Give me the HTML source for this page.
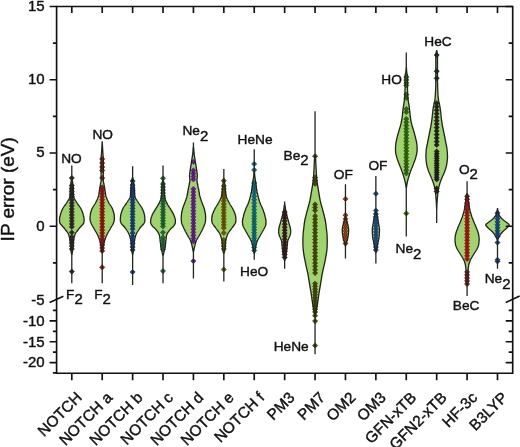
<!DOCTYPE html>
<html><head><meta charset="utf-8"><title>IP error violin plot</title>
<style>html,body{margin:0;padding:0;background:#fff}body{width:520px;height:447px;position:relative;overflow:hidden}</style>
</head><body>
<svg width="520" height="447" viewBox="0 0 520 447" style="position:absolute;left:0;top:0;filter:blur(0.35px)">
<rect width="520" height="447" fill="#fff"/>
<defs><path id="b0" d="M72.1 179.5 L72.3 180.5 L72.5 181.5 L72.6 182.5 L72.8 183.5 L72.9 184.5 L73.0 185.5 L73.2 186.5 L73.3 187.5 L73.3 188.5 L73.4 189.5 L73.4 190.5 L73.5 191.5 L73.5 192.5 L73.5 193.5 L73.5 194.5 L73.6 195.5 L73.7 196.5 L73.9 197.5 L74.3 198.5 L74.9 199.5 L75.5 200.5 L76.1 201.5 L76.7 202.5 L77.3 203.5 L78.0 204.5 L78.8 205.5 L79.5 206.5 L80.2 207.5 L80.8 208.5 L81.3 209.5 L81.8 210.5 L82.2 211.5 L82.6 212.5 L82.9 213.5 L83.2 214.5 L83.4 215.5 L83.7 216.5 L83.9 217.5 L84.0 218.5 L84.1 219.5 L84.1 220.5 L84.0 221.5 L83.9 222.5 L83.5 223.5 L82.7 224.5 L81.8 225.5 L80.9 226.5 L79.9 227.5 L79.1 228.5 L78.4 229.5 L77.6 230.5 L76.8 231.5 L76.1 232.5 L75.5 233.5 L75.0 234.5 L74.7 235.5 L74.4 236.5 L74.1 237.5 L73.9 238.5 L73.8 239.5 L73.6 240.5 L73.5 241.5 L73.4 242.5 L73.3 243.5 L73.2 244.5 L73.1 245.5 L73.0 246.5 L73.0 247.5 L72.8 248.5 L72.7 249.5 L72.6 250.5 L72.5 251.5 L72.3 252.5 L72.2 253.5 L72.1 254.0 L71.5 254.0 L71.4 253.5 L71.3 252.5 L71.1 251.5 L71.0 250.5 L70.9 249.5 L70.8 248.5 L70.7 247.5 L70.6 246.5 L70.5 245.5 L70.4 244.5 L70.3 243.5 L70.2 242.5 L70.1 241.5 L70.0 240.5 L69.8 239.5 L69.7 238.5 L69.5 237.5 L69.2 236.5 L69.0 235.5 L68.6 234.5 L68.1 233.5 L67.5 232.5 L66.8 231.5 L66.0 230.5 L65.2 229.5 L64.5 228.5 L63.7 227.5 L62.7 226.5 L61.8 225.5 L60.9 224.5 L60.1 223.5 L59.7 222.5 L59.6 221.5 L59.5 220.5 L59.5 219.5 L59.6 218.5 L59.7 217.5 L59.9 216.5 L60.2 215.5 L60.4 214.5 L60.7 213.5 L61.1 212.5 L61.4 211.5 L61.8 210.5 L62.3 209.5 L62.8 208.5 L63.4 207.5 L64.1 206.5 L64.8 205.5 L65.6 204.5 L66.3 203.5 L66.9 202.5 L67.5 201.5 L68.1 200.5 L68.7 199.5 L69.3 198.5 L69.7 197.5 L69.9 196.5 L70.0 195.5 L70.1 194.5 L70.1 193.5 L70.1 192.5 L70.1 191.5 L70.2 190.5 L70.2 189.5 L70.3 188.5 L70.3 187.5 L70.4 186.5 L70.6 185.5 L70.7 184.5 L70.8 183.5 L71.0 182.5 L71.1 181.5 L71.3 180.5 L71.5 179.5 Z"/><clipPath id="cp0"><use href="#b0"/></clipPath></defs>
<use href="#b0" fill="#9fd36b"/>
<defs><path id="m0" d="M71.8 175.3l2.65 2.65l-2.65 2.65l-2.65 -2.65ZM71.8 182.8l2.65 2.65l-2.65 2.65l-2.65 -2.65ZM71.8 185.8l2.65 2.65l-2.65 2.65l-2.65 -2.65ZM71.8 188.8l2.65 2.65l-2.65 2.65l-2.65 -2.65ZM71.8 191.8l2.65 2.65l-2.65 2.65l-2.65 -2.65ZM71.8 194.3l2.65 2.65l-2.65 2.65l-2.65 -2.65ZM71.8 197.3l2.65 2.65l-2.65 2.65l-2.65 -2.65ZM71.8 200.3l2.65 2.65l-2.65 2.65l-2.65 -2.65ZM71.8 203.3l2.65 2.65l-2.65 2.65l-2.65 -2.65ZM71.8 206.3l2.65 2.65l-2.65 2.65l-2.65 -2.65ZM71.8 209.3l2.65 2.65l-2.65 2.65l-2.65 -2.65ZM71.8 212.3l2.65 2.65l-2.65 2.65l-2.65 -2.65ZM71.8 215.3l2.65 2.65l-2.65 2.65l-2.65 -2.65ZM71.8 218.3l2.65 2.65l-2.65 2.65l-2.65 -2.65ZM71.8 221.3l2.65 2.65l-2.65 2.65l-2.65 -2.65ZM71.8 224.3l2.65 2.65l-2.65 2.65l-2.65 -2.65ZM71.8 229.8l2.65 2.65l-2.65 2.65l-2.65 -2.65ZM71.8 234.3l2.65 2.65l-2.65 2.65l-2.65 -2.65ZM71.8 237.3l2.65 2.65l-2.65 2.65l-2.65 -2.65ZM71.8 240.3l2.65 2.65l-2.65 2.65l-2.65 -2.65ZM71.8 243.3l2.65 2.65l-2.65 2.65l-2.65 -2.65ZM71.8 246.3l2.65 2.65l-2.65 2.65l-2.65 -2.65ZM71.8 268.9l2.65 2.65l-2.65 2.65l-2.65 -2.65Z"/></defs>
<use href="#m0" fill="none" stroke="#e4efb4" stroke-width="1.2" clip-path="url(#cp0)" opacity="0.25"/>
<use href="#m0" fill="#2e2b2e" stroke="#191719" stroke-width="0.5"/>
<g fill="none" stroke="#1f261b" stroke-width="1.3" stroke-linejoin="round"><use href="#b0"/><path d="M71.80 165.50V179.50M71.80 254.00V283.30"/></g>

<defs><path id="b1" d="M102.3 143.0 L102.4 144.0 L102.4 145.0 L102.5 146.0 L102.5 147.0 L102.6 148.0 L102.7 149.0 L102.7 150.0 L102.8 151.0 L102.8 152.0 L102.9 153.0 L103.0 154.0 L103.1 155.0 L103.1 156.0 L103.2 157.0 L103.2 158.0 L103.2 159.0 L103.3 160.0 L103.3 161.0 L103.3 162.0 L103.3 163.0 L103.4 164.0 L103.4 165.0 L103.4 166.0 L103.4 167.0 L103.4 168.0 L103.4 169.0 L103.4 170.0 L103.4 171.0 L103.4 172.0 L103.4 173.0 L103.3 174.0 L103.3 175.0 L103.3 176.0 L103.3 177.0 L103.2 178.0 L103.2 179.0 L103.2 180.0 L103.3 181.0 L103.5 182.0 L103.7 183.0 L103.9 184.0 L104.1 185.0 L104.2 186.0 L104.4 187.0 L104.6 188.0 L104.7 189.0 L104.9 190.0 L105.1 191.0 L105.2 192.0 L105.3 193.0 L105.5 194.0 L105.7 195.0 L105.9 196.0 L106.2 197.0 L106.6 198.0 L107.0 199.0 L107.4 200.0 L107.9 201.0 L108.4 202.0 L108.9 203.0 L109.5 204.0 L110.2 205.0 L110.9 206.0 L111.5 207.0 L112.1 208.0 L112.5 209.0 L112.9 210.0 L113.2 211.0 L113.5 212.0 L113.8 213.0 L114.0 214.0 L114.2 215.0 L114.3 216.0 L114.3 217.0 L114.4 218.0 L114.4 219.0 L114.3 220.0 L114.1 221.0 L113.8 222.0 L113.5 223.0 L113.0 224.0 L112.5 225.0 L111.9 226.0 L111.3 227.0 L110.7 228.0 L110.2 229.0 L109.6 230.0 L109.0 231.0 L108.4 232.0 L107.8 233.0 L107.3 234.0 L106.8 235.0 L106.4 236.0 L105.9 237.0 L105.5 238.0 L105.2 239.0 L104.8 240.0 L104.5 241.0 L104.3 242.0 L104.0 243.0 L103.8 244.0 L103.6 245.0 L103.5 246.0 L103.3 247.0 L103.1 248.0 L102.9 249.0 L102.8 250.0 L102.6 251.0 L102.5 252.0 L101.9 252.0 L101.8 251.0 L101.6 250.0 L101.5 249.0 L101.3 248.0 L101.1 247.0 L101.0 246.0 L100.8 245.0 L100.6 244.0 L100.4 243.0 L100.2 242.0 L99.9 241.0 L99.6 240.0 L99.3 239.0 L98.9 238.0 L98.5 237.0 L98.1 236.0 L97.6 235.0 L97.1 234.0 L96.6 233.0 L96.0 232.0 L95.4 231.0 L94.8 230.0 L94.2 229.0 L93.7 228.0 L93.1 227.0 L92.5 226.0 L91.9 225.0 L91.4 224.0 L91.0 223.0 L90.6 222.0 L90.3 221.0 L90.1 220.0 L90.0 219.0 L90.0 218.0 L90.1 217.0 L90.2 216.0 L90.3 215.0 L90.4 214.0 L90.6 213.0 L90.9 212.0 L91.2 211.0 L91.5 210.0 L91.9 209.0 L92.4 208.0 L92.9 207.0 L93.6 206.0 L94.2 205.0 L94.9 204.0 L95.5 203.0 L96.0 202.0 L96.5 201.0 L97.0 200.0 L97.5 199.0 L97.9 198.0 L98.2 197.0 L98.5 196.0 L98.7 195.0 L98.9 194.0 L99.1 193.0 L99.2 192.0 L99.4 191.0 L99.5 190.0 L99.7 189.0 L99.8 188.0 L100.0 187.0 L100.2 186.0 L100.4 185.0 L100.5 184.0 L100.7 183.0 L100.9 182.0 L101.2 181.0 L101.2 180.0 L101.2 179.0 L101.2 178.0 L101.2 177.0 L101.1 176.0 L101.1 175.0 L101.1 174.0 L101.1 173.0 L101.0 172.0 L101.0 171.0 L101.0 170.0 L101.0 169.0 L101.0 168.0 L101.0 167.0 L101.0 166.0 L101.1 165.0 L101.1 164.0 L101.1 163.0 L101.1 162.0 L101.1 161.0 L101.2 160.0 L101.2 159.0 L101.2 158.0 L101.2 157.0 L101.3 156.0 L101.4 155.0 L101.4 154.0 L101.5 153.0 L101.6 152.0 L101.6 151.0 L101.7 150.0 L101.8 149.0 L101.8 148.0 L101.9 147.0 L101.9 146.0 L102.0 145.0 L102.1 144.0 L102.1 143.0 Z"/><clipPath id="cp1"><use href="#b1"/></clipPath></defs>
<use href="#b1" fill="#9fd36b"/>
<defs><path id="m1" d="M102.2 156.3l2.65 2.65l-2.65 2.65l-2.65 -2.65ZM102.2 160.3l2.65 2.65l-2.65 2.65l-2.65 -2.65ZM102.2 164.3l2.65 2.65l-2.65 2.65l-2.65 -2.65ZM102.2 167.8l2.65 2.65l-2.65 2.65l-2.65 -2.65ZM102.2 175.3l2.65 2.65l-2.65 2.65l-2.65 -2.65ZM102.2 184.8l2.65 2.65l-2.65 2.65l-2.65 -2.65ZM102.2 187.9l2.65 2.65l-2.65 2.65l-2.65 -2.65ZM102.2 190.9l2.65 2.65l-2.65 2.65l-2.65 -2.65ZM102.2 193.9l2.65 2.65l-2.65 2.65l-2.65 -2.65ZM102.2 197.0l2.65 2.65l-2.65 2.65l-2.65 -2.65ZM102.2 200.0l2.65 2.65l-2.65 2.65l-2.65 -2.65ZM102.2 203.0l2.65 2.65l-2.65 2.65l-2.65 -2.65ZM102.2 206.1l2.65 2.65l-2.65 2.65l-2.65 -2.65ZM102.2 209.1l2.65 2.65l-2.65 2.65l-2.65 -2.65ZM102.2 212.1l2.65 2.65l-2.65 2.65l-2.65 -2.65ZM102.2 215.2l2.65 2.65l-2.65 2.65l-2.65 -2.65ZM102.2 218.2l2.65 2.65l-2.65 2.65l-2.65 -2.65ZM102.2 221.2l2.65 2.65l-2.65 2.65l-2.65 -2.65ZM102.2 224.3l2.65 2.65l-2.65 2.65l-2.65 -2.65ZM102.2 227.3l2.65 2.65l-2.65 2.65l-2.65 -2.65ZM102.2 230.3l2.65 2.65l-2.65 2.65l-2.65 -2.65ZM102.2 233.3l2.65 2.65l-2.65 2.65l-2.65 -2.65ZM102.2 236.3l2.65 2.65l-2.65 2.65l-2.65 -2.65ZM102.2 239.3l2.65 2.65l-2.65 2.65l-2.65 -2.65ZM102.2 242.3l2.65 2.65l-2.65 2.65l-2.65 -2.65ZM102.2 245.3l2.65 2.65l-2.65 2.65l-2.65 -2.65ZM102.2 248.3l2.65 2.65l-2.65 2.65l-2.65 -2.65ZM102.2 264.7l2.65 2.65l-2.65 2.65l-2.65 -2.65Z"/></defs>
<use href="#m1" fill="none" stroke="#e4efb4" stroke-width="1.2" clip-path="url(#cp1)" opacity="0.25"/>
<use href="#m1" fill="#a01212" stroke="#580909" stroke-width="0.5"/>
<g fill="none" stroke="#1f261b" stroke-width="1.3" stroke-linejoin="round"><use href="#b1"/><path d="M102.21 141.20V143.00M102.21 252.00V283.30"/></g>

<defs><path id="b2" d="M132.9 178.0 L133.1 179.0 L133.3 180.0 L133.4 181.0 L133.6 182.0 L133.7 183.0 L133.8 184.0 L134.0 185.0 L134.1 186.0 L134.2 187.0 L134.3 188.0 L134.4 189.0 L134.5 190.0 L134.5 191.0 L134.6 192.0 L134.6 193.0 L134.7 194.0 L134.7 195.0 L134.8 196.0 L135.0 197.0 L135.5 198.0 L136.0 199.0 L136.7 200.0 L137.3 201.0 L138.0 202.0 L138.6 203.0 L139.3 204.0 L140.0 205.0 L140.7 206.0 L141.4 207.0 L142.0 208.0 L142.5 209.0 L142.9 210.0 L143.3 211.0 L143.7 212.0 L144.0 213.0 L144.2 214.0 L144.5 215.0 L144.6 216.0 L144.7 217.0 L144.8 218.0 L144.9 219.0 L144.9 220.0 L144.8 221.0 L144.6 222.0 L144.2 223.0 L143.6 224.0 L142.7 225.0 L141.8 226.0 L140.8 227.0 L140.0 228.0 L139.3 229.0 L138.7 230.0 L138.0 231.0 L137.4 232.0 L136.8 233.0 L136.3 234.0 L135.9 235.0 L135.6 236.0 L135.3 237.0 L135.0 238.0 L134.8 239.0 L134.5 240.0 L134.4 241.0 L134.2 242.0 L134.1 243.0 L134.1 244.0 L134.0 245.0 L133.9 246.0 L133.8 247.0 L133.7 248.0 L133.6 249.0 L133.5 250.0 L133.4 251.0 L133.2 252.0 L133.1 253.0 L132.9 254.0 L132.3 254.0 L132.2 253.0 L132.0 252.0 L131.9 251.0 L131.8 250.0 L131.6 249.0 L131.5 248.0 L131.4 247.0 L131.3 246.0 L131.3 245.0 L131.2 244.0 L131.1 243.0 L131.0 242.0 L130.9 241.0 L130.7 240.0 L130.5 239.0 L130.2 238.0 L130.0 237.0 L129.7 236.0 L129.3 235.0 L128.9 234.0 L128.4 233.0 L127.9 232.0 L127.2 231.0 L126.6 230.0 L125.9 229.0 L125.2 228.0 L124.4 227.0 L123.5 226.0 L122.5 225.0 L121.6 224.0 L121.0 223.0 L120.6 222.0 L120.4 221.0 L120.3 220.0 L120.3 219.0 L120.4 218.0 L120.5 217.0 L120.6 216.0 L120.8 215.0 L121.0 214.0 L121.2 213.0 L121.6 212.0 L121.9 211.0 L122.3 210.0 L122.7 209.0 L123.2 208.0 L123.8 207.0 L124.5 206.0 L125.2 205.0 L126.0 204.0 L126.6 203.0 L127.3 202.0 L127.9 201.0 L128.6 200.0 L129.2 199.0 L129.8 198.0 L130.2 197.0 L130.4 196.0 L130.5 195.0 L130.6 194.0 L130.6 193.0 L130.7 192.0 L130.7 191.0 L130.8 190.0 L130.8 189.0 L130.9 188.0 L131.0 187.0 L131.1 186.0 L131.3 185.0 L131.4 184.0 L131.5 183.0 L131.7 182.0 L131.8 181.0 L132.0 180.0 L132.1 179.0 L132.3 178.0 Z"/><clipPath id="cp2"><use href="#b2"/></clipPath></defs>
<use href="#b2" fill="#9fd36b"/>
<defs><path id="m2" d="M132.6 178.3l2.65 2.65l-2.65 2.65l-2.65 -2.65ZM132.6 182.3l2.65 2.65l-2.65 2.65l-2.65 -2.65ZM132.6 185.3l2.65 2.65l-2.65 2.65l-2.65 -2.65ZM132.6 188.2l2.65 2.65l-2.65 2.65l-2.65 -2.65ZM132.6 191.2l2.65 2.65l-2.65 2.65l-2.65 -2.65ZM132.6 194.1l2.65 2.65l-2.65 2.65l-2.65 -2.65ZM132.6 197.0l2.65 2.65l-2.65 2.65l-2.65 -2.65ZM132.6 199.9l2.65 2.65l-2.65 2.65l-2.65 -2.65ZM132.6 202.9l2.65 2.65l-2.65 2.65l-2.65 -2.65ZM132.6 205.8l2.65 2.65l-2.65 2.65l-2.65 -2.65ZM132.6 208.8l2.65 2.65l-2.65 2.65l-2.65 -2.65ZM132.6 211.7l2.65 2.65l-2.65 2.65l-2.65 -2.65ZM132.6 214.6l2.65 2.65l-2.65 2.65l-2.65 -2.65ZM132.6 217.5l2.65 2.65l-2.65 2.65l-2.65 -2.65ZM132.6 220.5l2.65 2.65l-2.65 2.65l-2.65 -2.65ZM132.6 223.4l2.65 2.65l-2.65 2.65l-2.65 -2.65ZM132.6 226.3l2.65 2.65l-2.65 2.65l-2.65 -2.65ZM132.6 230.3l2.65 2.65l-2.65 2.65l-2.65 -2.65ZM132.6 233.8l2.65 2.65l-2.65 2.65l-2.65 -2.65ZM132.6 237.3l2.65 2.65l-2.65 2.65l-2.65 -2.65ZM132.6 240.8l2.65 2.65l-2.65 2.65l-2.65 -2.65ZM132.6 244.3l2.65 2.65l-2.65 2.65l-2.65 -2.65ZM132.6 247.3l2.65 2.65l-2.65 2.65l-2.65 -2.65ZM132.6 269.4l2.65 2.65l-2.65 2.65l-2.65 -2.65Z"/></defs>
<use href="#m2" fill="none" stroke="#e4efb4" stroke-width="1.2" clip-path="url(#cp2)" opacity="0.25"/>
<use href="#m2" fill="#17407f" stroke="#0c2345" stroke-width="0.5"/>
<g fill="none" stroke="#1f261b" stroke-width="1.3" stroke-linejoin="round"><use href="#b2"/><path d="M132.62 166.30V178.00M132.62 254.00V285.00"/></g>

<defs><path id="b3" d="M163.3 180.4 L163.6 181.4 L163.7 182.4 L163.9 183.4 L163.9 184.4 L164.0 185.4 L164.1 186.4 L164.1 187.4 L164.2 188.4 L164.2 189.4 L164.3 190.4 L164.3 191.4 L164.3 192.4 L164.4 193.4 L164.4 194.4 L164.5 195.4 L164.6 196.4 L164.7 197.4 L165.0 198.4 L165.3 199.4 L165.7 200.4 L166.1 201.4 L166.5 202.4 L167.0 203.4 L167.5 204.4 L168.1 205.4 L168.8 206.4 L169.4 207.4 L170.1 208.4 L170.7 209.4 L171.3 210.4 L171.9 211.4 L172.5 212.4 L173.1 213.4 L173.6 214.4 L174.0 215.4 L174.4 216.4 L174.7 217.4 L175.0 218.4 L175.3 219.4 L175.4 220.4 L175.4 221.4 L175.4 222.4 L175.2 223.4 L174.7 224.4 L174.2 225.4 L173.4 226.4 L172.2 227.4 L171.1 228.4 L170.3 229.4 L169.4 230.4 L168.7 231.4 L167.9 232.4 L167.3 233.4 L166.9 234.4 L166.6 235.4 L166.4 236.4 L166.3 237.4 L166.2 238.4 L166.1 239.4 L165.9 240.4 L165.8 241.4 L165.7 242.4 L165.6 243.4 L165.5 244.4 L165.4 245.4 L165.3 246.4 L165.1 247.4 L164.9 248.4 L164.7 249.4 L164.4 250.4 L164.2 251.4 L163.9 252.4 L163.7 253.4 L163.5 254.4 L163.3 255.0 L162.7 255.0 L162.6 254.4 L162.4 253.4 L162.1 252.4 L161.9 251.4 L161.6 250.4 L161.3 249.4 L161.1 248.4 L160.9 247.4 L160.8 246.4 L160.7 245.4 L160.6 244.4 L160.5 243.4 L160.3 242.4 L160.2 241.4 L160.1 240.4 L160.0 239.4 L159.9 238.4 L159.8 237.4 L159.6 236.4 L159.4 235.4 L159.1 234.4 L158.7 233.4 L158.1 232.4 L157.4 231.4 L156.6 230.4 L155.8 229.4 L154.9 228.4 L153.9 227.4 L152.7 226.4 L151.9 225.4 L151.3 224.4 L150.9 223.4 L150.6 222.4 L150.6 221.4 L150.7 220.4 L150.8 219.4 L151.0 218.4 L151.3 217.4 L151.7 216.4 L152.0 215.4 L152.4 214.4 L153.0 213.4 L153.5 212.4 L154.2 211.4 L154.8 210.4 L155.4 209.4 L156.0 208.4 L156.6 207.4 L157.3 206.4 L157.9 205.4 L158.5 204.4 L159.1 203.4 L159.5 202.4 L159.9 201.4 L160.3 200.4 L160.7 199.4 L161.0 198.4 L161.3 197.4 L161.5 196.4 L161.6 195.4 L161.6 194.4 L161.7 193.4 L161.7 192.4 L161.7 191.4 L161.8 190.4 L161.8 189.4 L161.9 188.4 L161.9 187.4 L162.0 186.4 L162.0 185.4 L162.1 184.4 L162.2 183.4 L162.3 182.4 L162.5 181.4 L162.7 180.4 Z"/><clipPath id="cp3"><use href="#b3"/></clipPath></defs>
<use href="#b3" fill="#9fd36b"/>
<defs><path id="m3" d="M163.0 175.7l2.65 2.65l-2.65 2.65l-2.65 -2.65ZM163.0 181.3l2.65 2.65l-2.65 2.65l-2.65 -2.65ZM163.0 184.3l2.65 2.65l-2.65 2.65l-2.65 -2.65ZM163.0 187.3l2.65 2.65l-2.65 2.65l-2.65 -2.65ZM163.0 190.3l2.65 2.65l-2.65 2.65l-2.65 -2.65ZM163.0 193.3l2.65 2.65l-2.65 2.65l-2.65 -2.65ZM163.0 195.3l2.65 2.65l-2.65 2.65l-2.65 -2.65ZM163.0 198.2l2.65 2.65l-2.65 2.65l-2.65 -2.65ZM163.0 201.0l2.65 2.65l-2.65 2.65l-2.65 -2.65ZM163.0 203.9l2.65 2.65l-2.65 2.65l-2.65 -2.65ZM163.0 206.8l2.65 2.65l-2.65 2.65l-2.65 -2.65ZM163.0 209.6l2.65 2.65l-2.65 2.65l-2.65 -2.65ZM163.0 212.4l2.65 2.65l-2.65 2.65l-2.65 -2.65ZM163.0 215.3l2.65 2.65l-2.65 2.65l-2.65 -2.65ZM163.0 218.2l2.65 2.65l-2.65 2.65l-2.65 -2.65ZM163.0 221.0l2.65 2.65l-2.65 2.65l-2.65 -2.65ZM163.0 223.8l2.65 2.65l-2.65 2.65l-2.65 -2.65ZM163.0 229.8l2.65 2.65l-2.65 2.65l-2.65 -2.65ZM163.0 234.8l2.65 2.65l-2.65 2.65l-2.65 -2.65ZM163.0 237.8l2.65 2.65l-2.65 2.65l-2.65 -2.65ZM163.0 240.8l2.65 2.65l-2.65 2.65l-2.65 -2.65ZM163.0 243.8l2.65 2.65l-2.65 2.65l-2.65 -2.65ZM163.0 246.8l2.65 2.65l-2.65 2.65l-2.65 -2.65ZM163.0 268.4l2.65 2.65l-2.65 2.65l-2.65 -2.65Z"/></defs>
<use href="#m3" fill="none" stroke="#e4efb4" stroke-width="1.2" clip-path="url(#cp3)" opacity="0.25"/>
<use href="#m3" fill="#1f6b3a" stroke="#113a1f" stroke-width="0.5"/>
<g fill="none" stroke="#1f261b" stroke-width="1.3" stroke-linejoin="round"><use href="#b3"/><path d="M163.02 165.50V180.40M163.02 255.00V283.30"/></g>

<defs><path id="b4" d="M193.7 148.0 L193.8 149.0 L193.8 150.0 L193.9 151.0 L194.0 152.0 L194.1 153.0 L194.2 154.0 L194.3 155.0 L194.4 156.0 L194.6 157.0 L194.7 158.0 L194.9 159.0 L195.0 160.0 L195.2 161.0 L195.3 162.0 L195.5 163.0 L195.7 164.0 L195.8 165.0 L196.0 166.0 L196.2 167.0 L196.3 168.0 L196.5 169.0 L196.6 170.0 L196.8 171.0 L196.9 172.0 L197.1 173.0 L197.2 174.0 L197.3 175.0 L197.3 176.0 L197.3 177.0 L197.2 178.0 L197.0 179.0 L196.9 180.0 L197.0 181.0 L197.1 182.0 L197.3 183.0 L197.5 184.0 L197.7 185.0 L197.9 186.0 L198.1 187.0 L198.3 188.0 L198.6 189.0 L198.7 190.0 L198.9 191.0 L199.1 192.0 L199.2 193.0 L199.4 194.0 L199.6 195.0 L199.8 196.0 L200.1 197.0 L200.4 198.0 L200.7 199.0 L201.1 200.0 L201.4 201.0 L201.8 202.0 L202.1 203.0 L202.5 204.0 L202.9 205.0 L203.3 206.0 L203.7 207.0 L204.0 208.0 L204.3 209.0 L204.6 210.0 L204.8 211.0 L205.0 212.0 L205.2 213.0 L205.4 214.0 L205.5 215.0 L205.6 216.0 L205.6 217.0 L205.6 218.0 L205.6 219.0 L205.6 220.0 L205.5 221.0 L205.3 222.0 L205.1 223.0 L204.8 224.0 L204.4 225.0 L204.0 226.0 L203.6 227.0 L203.1 228.0 L202.7 229.0 L202.2 230.0 L201.7 231.0 L201.1 232.0 L200.6 233.0 L200.1 234.0 L199.5 235.0 L199.0 236.0 L198.4 237.0 L197.8 238.0 L197.2 239.0 L196.6 240.0 L196.2 241.0 L195.8 242.0 L195.5 243.0 L195.2 244.0 L195.0 245.0 L194.8 246.0 L194.5 247.0 L194.3 248.0 L194.1 249.0 L193.9 250.0 L193.7 251.0 L193.1 251.0 L192.9 250.0 L192.7 249.0 L192.5 248.0 L192.3 247.0 L192.1 246.0 L191.9 245.0 L191.6 244.0 L191.3 243.0 L191.0 242.0 L190.7 241.0 L190.2 240.0 L189.7 239.0 L189.1 238.0 L188.5 237.0 L187.9 236.0 L187.3 235.0 L186.8 234.0 L186.3 233.0 L185.7 232.0 L185.2 231.0 L184.7 230.0 L184.2 229.0 L183.8 228.0 L183.3 227.0 L182.8 226.0 L182.4 225.0 L182.0 224.0 L181.7 223.0 L181.5 222.0 L181.4 221.0 L181.3 220.0 L181.2 219.0 L181.2 218.0 L181.3 217.0 L181.3 216.0 L181.4 215.0 L181.5 214.0 L181.6 213.0 L181.8 212.0 L182.0 211.0 L182.3 210.0 L182.5 209.0 L182.8 208.0 L183.2 207.0 L183.5 206.0 L183.9 205.0 L184.3 204.0 L184.7 203.0 L185.1 202.0 L185.4 201.0 L185.8 200.0 L186.1 199.0 L186.5 198.0 L186.8 197.0 L187.0 196.0 L187.2 195.0 L187.4 194.0 L187.6 193.0 L187.8 192.0 L187.9 191.0 L188.1 190.0 L188.3 189.0 L188.5 188.0 L188.7 187.0 L188.9 186.0 L189.1 185.0 L189.3 184.0 L189.5 183.0 L189.7 182.0 L189.9 181.0 L189.9 180.0 L189.8 179.0 L189.7 178.0 L189.6 177.0 L189.5 176.0 L189.6 175.0 L189.7 174.0 L189.8 173.0 L189.9 172.0 L190.1 171.0 L190.2 170.0 L190.4 169.0 L190.5 168.0 L190.7 167.0 L190.8 166.0 L191.0 165.0 L191.2 164.0 L191.4 163.0 L191.5 162.0 L191.7 161.0 L191.8 160.0 L192.0 159.0 L192.1 158.0 L192.3 157.0 L192.4 156.0 L192.6 155.0 L192.7 154.0 L192.8 153.0 L192.9 152.0 L193.0 151.0 L193.0 150.0 L193.1 149.0 L193.1 148.0 Z"/><clipPath id="cp4"><use href="#b4"/></clipPath></defs>
<use href="#b4" fill="#9fd36b"/>
<defs><path id="m4" d="M193.4 159.3l2.65 2.65l-2.65 2.65l-2.65 -2.65ZM193.4 167.8l2.65 2.65l-2.65 2.65l-2.65 -2.65ZM193.4 170.8l2.65 2.65l-2.65 2.65l-2.65 -2.65ZM193.4 173.8l2.65 2.65l-2.65 2.65l-2.65 -2.65ZM193.4 176.8l2.65 2.65l-2.65 2.65l-2.65 -2.65ZM193.4 186.3l2.65 2.65l-2.65 2.65l-2.65 -2.65ZM193.4 189.4l2.65 2.65l-2.65 2.65l-2.65 -2.65ZM193.4 192.5l2.65 2.65l-2.65 2.65l-2.65 -2.65ZM193.4 195.6l2.65 2.65l-2.65 2.65l-2.65 -2.65ZM193.4 198.7l2.65 2.65l-2.65 2.65l-2.65 -2.65ZM193.4 201.8l2.65 2.65l-2.65 2.65l-2.65 -2.65ZM193.4 204.9l2.65 2.65l-2.65 2.65l-2.65 -2.65ZM193.4 208.0l2.65 2.65l-2.65 2.65l-2.65 -2.65ZM193.4 211.1l2.65 2.65l-2.65 2.65l-2.65 -2.65ZM193.4 214.2l2.65 2.65l-2.65 2.65l-2.65 -2.65ZM193.4 217.3l2.65 2.65l-2.65 2.65l-2.65 -2.65ZM193.4 220.4l2.65 2.65l-2.65 2.65l-2.65 -2.65ZM193.4 223.5l2.65 2.65l-2.65 2.65l-2.65 -2.65ZM193.4 226.6l2.65 2.65l-2.65 2.65l-2.65 -2.65ZM193.4 229.7l2.65 2.65l-2.65 2.65l-2.65 -2.65ZM193.4 232.8l2.65 2.65l-2.65 2.65l-2.65 -2.65ZM193.4 235.8l2.65 2.65l-2.65 2.65l-2.65 -2.65ZM193.4 238.8l2.65 2.65l-2.65 2.65l-2.65 -2.65ZM193.4 258.4l2.65 2.65l-2.65 2.65l-2.65 -2.65Z"/></defs>
<use href="#m4" fill="none" stroke="#e4efb4" stroke-width="1.2" clip-path="url(#cp4)" opacity="0.25"/>
<use href="#m4" fill="#6a1b9a" stroke="#3a0e54" stroke-width="0.5"/>
<g fill="none" stroke="#1f261b" stroke-width="1.3" stroke-linejoin="round"><use href="#b4"/><path d="M193.43 142.50V148.00M193.43 251.00V278.40"/></g>

<defs><path id="b5" d="M224.1 179.5 L224.3 180.5 L224.4 181.5 L224.6 182.5 L224.7 183.5 L224.8 184.5 L224.9 185.5 L225.0 186.5 L225.1 187.5 L225.1 188.5 L225.2 189.5 L225.4 190.5 L225.5 191.5 L225.6 192.5 L225.7 193.5 L225.9 194.5 L226.0 195.5 L226.3 196.5 L226.6 197.5 L227.0 198.5 L227.4 199.5 L228.0 200.5 L228.5 201.5 L229.0 202.5 L229.5 203.5 L230.1 204.5 L230.8 205.5 L231.4 206.5 L232.0 207.5 L232.6 208.5 L233.1 209.5 L233.6 210.5 L234.1 211.5 L234.5 212.5 L234.9 213.5 L235.2 214.5 L235.5 215.5 L235.6 216.5 L235.8 217.5 L235.9 218.5 L235.9 219.5 L235.9 220.5 L235.8 221.5 L235.6 222.5 L235.2 223.5 L234.6 224.5 L233.8 225.5 L233.1 226.5 L232.3 227.5 L231.6 228.5 L230.9 229.5 L230.1 230.5 L229.4 231.5 L228.7 232.5 L228.1 233.5 L227.5 234.5 L227.2 235.5 L226.8 236.5 L226.5 237.5 L226.2 238.5 L226.0 239.5 L225.8 240.5 L225.6 241.5 L225.5 242.5 L225.5 243.5 L225.4 244.5 L225.3 245.5 L225.3 246.5 L225.2 247.5 L225.1 248.5 L224.9 249.5 L224.7 250.5 L224.5 251.5 L224.3 252.5 L224.1 253.0 L223.5 253.0 L223.4 252.5 L223.2 251.5 L222.9 250.5 L222.8 249.5 L222.6 248.5 L222.5 247.5 L222.4 246.5 L222.3 245.5 L222.3 244.5 L222.2 243.5 L222.1 242.5 L222.0 241.5 L221.9 240.5 L221.7 239.5 L221.5 238.5 L221.2 237.5 L220.9 236.5 L220.5 235.5 L220.1 234.5 L219.6 233.5 L219.0 232.5 L218.3 231.5 L217.5 230.5 L216.8 229.5 L216.1 228.5 L215.4 227.5 L214.6 226.5 L213.8 225.5 L213.1 224.5 L212.5 223.5 L212.0 222.5 L211.9 221.5 L211.8 220.5 L211.7 219.5 L211.8 218.5 L211.9 217.5 L212.1 216.5 L212.2 215.5 L212.4 214.5 L212.8 213.5 L213.2 212.5 L213.6 211.5 L214.1 210.5 L214.6 209.5 L215.1 208.5 L215.6 207.5 L216.3 206.5 L216.9 205.5 L217.5 204.5 L218.1 203.5 L218.7 202.5 L219.2 201.5 L219.7 200.5 L220.2 199.5 L220.7 198.5 L221.1 197.5 L221.4 196.5 L221.6 195.5 L221.8 194.5 L222.0 193.5 L222.1 192.5 L222.2 191.5 L222.3 190.5 L222.4 189.5 L222.5 188.5 L222.6 187.5 L222.7 186.5 L222.8 185.5 L222.9 184.5 L223.0 183.5 L223.1 182.5 L223.2 181.5 L223.4 180.5 L223.5 179.5 Z"/><clipPath id="cp5"><use href="#b5"/></clipPath></defs>
<use href="#b5" fill="#9fd36b"/>
<defs><path id="m5" d="M223.8 178.0l2.65 2.65l-2.65 2.65l-2.65 -2.65ZM223.8 183.3l2.65 2.65l-2.65 2.65l-2.65 -2.65ZM223.8 186.3l2.65 2.65l-2.65 2.65l-2.65 -2.65ZM223.8 189.3l2.65 2.65l-2.65 2.65l-2.65 -2.65ZM223.8 192.3l2.65 2.65l-2.65 2.65l-2.65 -2.65ZM223.8 195.3l2.65 2.65l-2.65 2.65l-2.65 -2.65ZM223.8 198.3l2.65 2.65l-2.65 2.65l-2.65 -2.65ZM223.8 201.3l2.65 2.65l-2.65 2.65l-2.65 -2.65ZM223.8 204.3l2.65 2.65l-2.65 2.65l-2.65 -2.65ZM223.8 207.3l2.65 2.65l-2.65 2.65l-2.65 -2.65ZM223.8 210.3l2.65 2.65l-2.65 2.65l-2.65 -2.65ZM223.8 213.3l2.65 2.65l-2.65 2.65l-2.65 -2.65ZM223.8 216.3l2.65 2.65l-2.65 2.65l-2.65 -2.65ZM223.8 219.3l2.65 2.65l-2.65 2.65l-2.65 -2.65ZM223.8 222.3l2.65 2.65l-2.65 2.65l-2.65 -2.65ZM223.8 225.3l2.65 2.65l-2.65 2.65l-2.65 -2.65ZM223.8 230.3l2.65 2.65l-2.65 2.65l-2.65 -2.65ZM223.8 237.3l2.65 2.65l-2.65 2.65l-2.65 -2.65ZM223.8 240.3l2.65 2.65l-2.65 2.65l-2.65 -2.65ZM223.8 243.3l2.65 2.65l-2.65 2.65l-2.65 -2.65ZM223.8 246.3l2.65 2.65l-2.65 2.65l-2.65 -2.65ZM223.8 266.8l2.65 2.65l-2.65 2.65l-2.65 -2.65Z"/></defs>
<use href="#m5" fill="none" stroke="#e4efb4" stroke-width="1.2" clip-path="url(#cp5)" opacity="0.25"/>
<use href="#m5" fill="#6b5a00" stroke="#3a3100" stroke-width="0.5"/>
<g fill="none" stroke="#1f261b" stroke-width="1.3" stroke-linejoin="round"><use href="#b5"/><path d="M223.84 169.00V179.50M223.84 253.00V281.50"/></g>

<defs><path id="b6" d="M254.5 172.0 L254.6 173.0 L254.6 174.0 L254.7 175.0 L254.8 176.0 L254.9 177.0 L255.0 178.0 L255.2 179.0 L255.4 180.0 L255.5 181.0 L255.7 182.0 L255.8 183.0 L256.0 184.0 L256.1 185.0 L256.2 186.0 L256.3 187.0 L256.4 188.0 L256.6 189.0 L256.7 190.0 L256.9 191.0 L257.1 192.0 L257.3 193.0 L257.6 194.0 L257.8 195.0 L258.0 196.0 L258.3 197.0 L258.5 198.0 L258.8 199.0 L259.1 200.0 L259.4 201.0 L259.7 202.0 L260.1 203.0 L260.5 204.0 L260.9 205.0 L261.4 206.0 L261.9 207.0 L262.3 208.0 L262.7 209.0 L263.1 210.0 L263.5 211.0 L263.8 212.0 L264.2 213.0 L264.5 214.0 L264.7 215.0 L265.0 216.0 L265.2 217.0 L265.5 218.0 L265.7 219.0 L265.9 220.0 L266.0 221.0 L266.0 222.0 L266.0 223.0 L265.9 224.0 L265.7 225.0 L265.5 226.0 L265.0 227.0 L264.5 228.0 L263.9 229.0 L263.4 230.0 L262.8 231.0 L262.2 232.0 L261.7 233.0 L261.1 234.0 L260.5 235.0 L260.0 236.0 L259.4 237.0 L258.8 238.0 L258.3 239.0 L257.7 240.0 L257.3 241.0 L256.9 242.0 L256.6 243.0 L256.3 244.0 L256.0 245.0 L255.8 246.0 L255.6 247.0 L255.3 248.0 L255.2 249.0 L255.0 250.0 L254.8 251.0 L254.7 252.0 L254.5 253.0 L253.9 253.0 L253.8 252.0 L253.7 251.0 L253.5 250.0 L253.3 249.0 L253.1 248.0 L252.9 247.0 L252.7 246.0 L252.5 245.0 L252.2 244.0 L251.9 243.0 L251.6 242.0 L251.2 241.0 L250.7 240.0 L250.2 239.0 L249.7 238.0 L249.1 237.0 L248.5 236.0 L247.9 235.0 L247.4 234.0 L246.8 233.0 L246.2 232.0 L245.7 231.0 L245.1 230.0 L244.6 229.0 L244.0 228.0 L243.5 227.0 L243.0 226.0 L242.8 225.0 L242.6 224.0 L242.5 223.0 L242.4 222.0 L242.5 221.0 L242.6 220.0 L242.8 219.0 L243.0 218.0 L243.3 217.0 L243.5 216.0 L243.7 215.0 L244.0 214.0 L244.3 213.0 L244.6 212.0 L245.0 211.0 L245.4 210.0 L245.7 209.0 L246.1 208.0 L246.6 207.0 L247.1 206.0 L247.6 205.0 L248.0 204.0 L248.4 203.0 L248.8 202.0 L249.1 201.0 L249.4 200.0 L249.7 199.0 L249.9 198.0 L250.2 197.0 L250.4 196.0 L250.7 195.0 L250.9 194.0 L251.1 193.0 L251.4 192.0 L251.6 191.0 L251.7 190.0 L251.9 189.0 L252.0 188.0 L252.2 187.0 L252.3 186.0 L252.4 185.0 L252.5 184.0 L252.6 183.0 L252.8 182.0 L253.0 181.0 L253.1 180.0 L253.3 179.0 L253.5 178.0 L253.6 177.0 L253.7 176.0 L253.8 175.0 L253.8 174.0 L253.9 173.0 L253.9 172.0 Z"/><clipPath id="cp6"><use href="#b6"/></clipPath></defs>
<use href="#b6" fill="#9fd36b"/>
<defs><path id="m6" d="M254.2 161.3l2.65 2.65l-2.65 2.65l-2.65 -2.65ZM254.2 167.3l2.65 2.65l-2.65 2.65l-2.65 -2.65ZM254.2 180.3l2.65 2.65l-2.65 2.65l-2.65 -2.65ZM254.2 183.7l2.65 2.65l-2.65 2.65l-2.65 -2.65ZM254.2 187.0l2.65 2.65l-2.65 2.65l-2.65 -2.65ZM254.2 190.3l2.65 2.65l-2.65 2.65l-2.65 -2.65ZM254.2 193.7l2.65 2.65l-2.65 2.65l-2.65 -2.65ZM254.2 197.0l2.65 2.65l-2.65 2.65l-2.65 -2.65ZM254.2 200.3l2.65 2.65l-2.65 2.65l-2.65 -2.65ZM254.2 203.7l2.65 2.65l-2.65 2.65l-2.65 -2.65ZM254.2 207.0l2.65 2.65l-2.65 2.65l-2.65 -2.65ZM254.2 210.3l2.65 2.65l-2.65 2.65l-2.65 -2.65ZM254.2 213.3l2.65 2.65l-2.65 2.65l-2.65 -2.65ZM254.2 216.1l2.65 2.65l-2.65 2.65l-2.65 -2.65ZM254.2 218.9l2.65 2.65l-2.65 2.65l-2.65 -2.65ZM254.2 221.7l2.65 2.65l-2.65 2.65l-2.65 -2.65ZM254.2 224.5l2.65 2.65l-2.65 2.65l-2.65 -2.65ZM254.2 227.2l2.65 2.65l-2.65 2.65l-2.65 -2.65ZM254.2 230.0l2.65 2.65l-2.65 2.65l-2.65 -2.65ZM254.2 232.8l2.65 2.65l-2.65 2.65l-2.65 -2.65ZM254.2 235.6l2.65 2.65l-2.65 2.65l-2.65 -2.65ZM254.2 238.3l2.65 2.65l-2.65 2.65l-2.65 -2.65ZM254.2 241.5l2.65 2.65l-2.65 2.65l-2.65 -2.65ZM254.2 244.8l2.65 2.65l-2.65 2.65l-2.65 -2.65ZM254.2 247.9l2.65 2.65l-2.65 2.65l-2.65 -2.65Z"/></defs>
<use href="#m6" fill="none" stroke="#e4efb4" stroke-width="1.2" clip-path="url(#cp6)" opacity="0.25"/>
<use href="#m6" fill="#0a7080" stroke="#053d46" stroke-width="0.5"/>
<g fill="none" stroke="#1f261b" stroke-width="1.3" stroke-linejoin="round"><use href="#b6"/><path d="M254.24 149.30V172.00M254.24 253.00V259.80"/></g>

<defs><path id="b7" d="M285.0 205.0 L285.0 206.0 L285.2 207.0 L285.3 208.0 L285.5 209.0 L285.6 210.0 L285.8 211.0 L286.0 212.0 L286.3 213.0 L286.5 214.0 L286.8 215.0 L287.0 216.0 L287.3 217.0 L287.5 218.0 L287.8 219.0 L288.1 220.0 L288.4 221.0 L288.7 222.0 L288.9 223.0 L289.2 224.0 L289.5 225.0 L289.8 226.0 L290.1 227.0 L290.3 228.0 L290.5 229.0 L290.6 230.0 L290.7 231.0 L290.7 232.0 L290.6 233.0 L290.4 234.0 L290.2 235.0 L289.8 236.0 L289.4 237.0 L288.9 238.0 L288.5 239.0 L288.0 240.0 L287.7 241.0 L287.6 242.0 L287.5 243.0 L287.4 244.0 L287.3 245.0 L287.2 246.0 L287.1 247.0 L287.1 248.0 L286.9 249.0 L286.8 250.0 L286.7 251.0 L286.5 252.0 L286.4 253.0 L286.2 254.0 L286.0 255.0 L285.9 256.0 L285.7 257.0 L285.4 258.0 L285.2 259.0 L285.0 260.0 L284.4 260.0 L284.1 259.0 L283.9 258.0 L283.6 257.0 L283.4 256.0 L283.3 255.0 L283.1 254.0 L282.9 253.0 L282.8 252.0 L282.6 251.0 L282.5 250.0 L282.4 249.0 L282.3 248.0 L282.2 247.0 L282.1 246.0 L282.0 245.0 L281.9 244.0 L281.8 243.0 L281.7 242.0 L281.6 241.0 L281.3 240.0 L280.8 239.0 L280.4 238.0 L279.9 237.0 L279.5 236.0 L279.2 235.0 L278.9 234.0 L278.7 233.0 L278.6 232.0 L278.6 231.0 L278.7 230.0 L278.8 229.0 L279.0 228.0 L279.2 227.0 L279.5 226.0 L279.8 225.0 L280.1 224.0 L280.4 223.0 L280.7 222.0 L280.9 221.0 L281.2 220.0 L281.5 219.0 L281.8 218.0 L282.0 217.0 L282.3 216.0 L282.5 215.0 L282.8 214.0 L283.0 213.0 L283.3 212.0 L283.5 211.0 L283.7 210.0 L283.9 209.0 L284.0 208.0 L284.1 207.0 L284.3 206.0 L284.4 205.0 Z"/><clipPath id="cp7"><use href="#b7"/></clipPath></defs>
<use href="#b7" fill="#9fd36b"/>
<defs><path id="m7" d="M284.7 209.3l2.65 2.65l-2.65 2.65l-2.65 -2.65ZM284.7 212.4l2.65 2.65l-2.65 2.65l-2.65 -2.65ZM284.7 215.4l2.65 2.65l-2.65 2.65l-2.65 -2.65ZM284.7 218.4l2.65 2.65l-2.65 2.65l-2.65 -2.65ZM284.7 221.5l2.65 2.65l-2.65 2.65l-2.65 -2.65ZM284.7 224.5l2.65 2.65l-2.65 2.65l-2.65 -2.65ZM284.7 227.5l2.65 2.65l-2.65 2.65l-2.65 -2.65ZM284.7 230.6l2.65 2.65l-2.65 2.65l-2.65 -2.65ZM284.7 233.6l2.65 2.65l-2.65 2.65l-2.65 -2.65ZM284.7 236.7l2.65 2.65l-2.65 2.65l-2.65 -2.65ZM284.7 239.7l2.65 2.65l-2.65 2.65l-2.65 -2.65ZM284.7 242.7l2.65 2.65l-2.65 2.65l-2.65 -2.65ZM284.7 245.8l2.65 2.65l-2.65 2.65l-2.65 -2.65ZM284.7 248.8l2.65 2.65l-2.65 2.65l-2.65 -2.65ZM284.7 251.8l2.65 2.65l-2.65 2.65l-2.65 -2.65ZM284.7 254.8l2.65 2.65l-2.65 2.65l-2.65 -2.65Z"/></defs>
<use href="#m7" fill="none" stroke="#e4efb4" stroke-width="1.2" clip-path="url(#cp7)" opacity="0.25"/>
<use href="#m7" fill="#3a1a20" stroke="#1f0e11" stroke-width="0.5"/>
<g fill="none" stroke="#1f261b" stroke-width="1.3" stroke-linejoin="round"><use href="#b7"/><path d="M284.65 201.50V205.00M284.65 260.00V268.80"/></g>

<defs><path id="b8" d="M315.4 157.0 L315.5 158.0 L315.6 159.0 L315.7 160.0 L315.7 161.0 L315.8 162.0 L315.8 163.0 L315.9 164.0 L315.9 165.0 L316.0 166.0 L316.0 167.0 L316.1 168.0 L316.1 169.0 L316.2 170.0 L316.2 171.0 L316.3 172.0 L316.3 173.0 L316.4 174.0 L316.5 175.0 L316.5 176.0 L316.6 177.0 L316.7 178.0 L316.8 179.0 L316.9 180.0 L317.0 181.0 L317.1 182.0 L317.3 183.0 L317.4 184.0 L317.5 185.0 L317.7 186.0 L317.9 187.0 L318.0 188.0 L318.2 189.0 L318.4 190.0 L318.5 191.0 L318.7 192.0 L318.8 193.0 L319.0 194.0 L319.2 195.0 L319.4 196.0 L319.5 197.0 L319.7 198.0 L319.9 199.0 L320.1 200.0 L320.3 201.0 L320.6 202.0 L320.8 203.0 L321.1 204.0 L321.3 205.0 L321.6 206.0 L321.9 207.0 L322.2 208.0 L322.5 209.0 L322.7 210.0 L323.0 211.0 L323.3 212.0 L323.5 213.0 L323.8 214.0 L324.1 215.0 L324.3 216.0 L324.5 217.0 L324.8 218.0 L325.0 219.0 L325.2 220.0 L325.4 221.0 L325.6 222.0 L325.7 223.0 L325.8 224.0 L326.0 225.0 L326.1 226.0 L326.2 227.0 L326.3 228.0 L326.4 229.0 L326.6 230.0 L326.7 231.0 L326.8 232.0 L326.9 233.0 L327.0 234.0 L327.1 235.0 L327.1 236.0 L327.1 237.0 L327.2 238.0 L327.2 239.0 L327.2 240.0 L327.3 241.0 L327.3 242.0 L327.2 243.0 L327.2 244.0 L327.2 245.0 L327.1 246.0 L327.1 247.0 L327.1 248.0 L327.0 249.0 L326.9 250.0 L326.8 251.0 L326.6 252.0 L326.5 253.0 L326.3 254.0 L326.2 255.0 L326.0 256.0 L325.8 257.0 L325.6 258.0 L325.5 259.0 L325.3 260.0 L325.1 261.0 L324.9 262.0 L324.6 263.0 L324.4 264.0 L324.2 265.0 L324.0 266.0 L323.7 267.0 L323.5 268.0 L323.3 269.0 L323.0 270.0 L322.8 271.0 L322.6 272.0 L322.4 273.0 L322.2 274.0 L322.0 275.0 L321.8 276.0 L321.7 277.0 L321.5 278.0 L321.4 279.0 L321.2 280.0 L321.1 281.0 L320.9 282.0 L320.7 283.0 L320.6 284.0 L320.4 285.0 L320.2 286.0 L320.1 287.0 L319.9 288.0 L319.7 289.0 L319.5 290.0 L319.4 291.0 L319.2 292.0 L319.0 293.0 L318.9 294.0 L318.7 295.0 L318.6 296.0 L318.5 297.0 L318.3 298.0 L318.2 299.0 L318.1 300.0 L317.9 301.0 L317.8 302.0 L317.6 303.0 L317.5 304.0 L317.3 305.0 L317.1 306.0 L317.0 307.0 L316.8 308.0 L316.6 309.0 L316.4 310.0 L316.2 311.0 L315.9 312.0 L315.6 313.0 L315.4 313.8 L314.8 313.8 L314.5 313.0 L314.2 312.0 L313.9 311.0 L313.7 310.0 L313.5 309.0 L313.3 308.0 L313.2 307.0 L313.0 306.0 L312.8 305.0 L312.7 304.0 L312.5 303.0 L312.4 302.0 L312.2 301.0 L312.1 300.0 L311.9 299.0 L311.8 298.0 L311.7 297.0 L311.5 296.0 L311.4 295.0 L311.2 294.0 L311.1 293.0 L310.9 292.0 L310.8 291.0 L310.6 290.0 L310.4 289.0 L310.2 288.0 L310.1 287.0 L309.9 286.0 L309.7 285.0 L309.6 284.0 L309.4 283.0 L309.2 282.0 L309.1 281.0 L308.9 280.0 L308.7 279.0 L308.6 278.0 L308.4 277.0 L308.3 276.0 L308.1 275.0 L308.0 274.0 L307.8 273.0 L307.5 272.0 L307.3 271.0 L307.1 270.0 L306.8 269.0 L306.6 268.0 L306.4 267.0 L306.1 266.0 L305.9 265.0 L305.7 264.0 L305.5 263.0 L305.3 262.0 L305.1 261.0 L304.9 260.0 L304.7 259.0 L304.5 258.0 L304.3 257.0 L304.1 256.0 L303.9 255.0 L303.8 254.0 L303.6 253.0 L303.5 252.0 L303.4 251.0 L303.2 250.0 L303.1 249.0 L303.1 248.0 L303.0 247.0 L303.0 246.0 L302.9 245.0 L302.9 244.0 L302.9 243.0 L302.9 242.0 L302.9 241.0 L302.9 240.0 L302.9 239.0 L302.9 238.0 L303.0 237.0 L303.0 236.0 L303.1 235.0 L303.1 234.0 L303.2 233.0 L303.3 232.0 L303.4 231.0 L303.6 230.0 L303.7 229.0 L303.8 228.0 L303.9 227.0 L304.0 226.0 L304.1 225.0 L304.3 224.0 L304.4 223.0 L304.6 222.0 L304.7 221.0 L304.9 220.0 L305.1 219.0 L305.3 218.0 L305.6 217.0 L305.8 216.0 L306.1 215.0 L306.3 214.0 L306.6 213.0 L306.8 212.0 L307.1 211.0 L307.4 210.0 L307.7 209.0 L307.9 208.0 L308.2 207.0 L308.5 206.0 L308.8 205.0 L309.1 204.0 L309.3 203.0 L309.5 202.0 L309.8 201.0 L310.0 200.0 L310.2 199.0 L310.4 198.0 L310.6 197.0 L310.8 196.0 L310.9 195.0 L311.1 194.0 L311.3 193.0 L311.4 192.0 L311.6 191.0 L311.8 190.0 L311.9 189.0 L312.1 188.0 L312.3 187.0 L312.4 186.0 L312.6 185.0 L312.7 184.0 L312.9 183.0 L313.0 182.0 L313.1 181.0 L313.2 180.0 L313.3 179.0 L313.4 178.0 L313.5 177.0 L313.6 176.0 L313.7 175.0 L313.7 174.0 L313.8 173.0 L313.8 172.0 L313.9 171.0 L314.0 170.0 L314.0 169.0 L314.1 168.0 L314.1 167.0 L314.1 166.0 L314.2 165.0 L314.2 164.0 L314.3 163.0 L314.3 162.0 L314.4 161.0 L314.5 160.0 L314.5 159.0 L314.6 158.0 L314.8 157.0 Z"/><clipPath id="cp8"><use href="#b8"/></clipPath></defs>
<use href="#b8" fill="#9fd36b"/>
<defs><path id="m8" d="M315.1 153.5l2.65 2.65l-2.65 2.65l-2.65 -2.65ZM315.1 174.8l2.65 2.65l-2.65 2.65l-2.65 -2.65ZM315.1 177.8l2.65 2.65l-2.65 2.65l-2.65 -2.65ZM315.1 181.3l2.65 2.65l-2.65 2.65l-2.65 -2.65ZM315.1 201.8l2.65 2.65l-2.65 2.65l-2.65 -2.65ZM315.1 204.8l2.65 2.65l-2.65 2.65l-2.65 -2.65ZM315.1 207.9l2.65 2.65l-2.65 2.65l-2.65 -2.65ZM315.1 213.3l2.65 2.65l-2.65 2.65l-2.65 -2.65ZM315.1 216.7l2.65 2.65l-2.65 2.65l-2.65 -2.65ZM315.1 220.1l2.65 2.65l-2.65 2.65l-2.65 -2.65ZM315.1 223.4l2.65 2.65l-2.65 2.65l-2.65 -2.65ZM315.1 226.8l2.65 2.65l-2.65 2.65l-2.65 -2.65ZM315.1 230.1l2.65 2.65l-2.65 2.65l-2.65 -2.65ZM315.1 233.5l2.65 2.65l-2.65 2.65l-2.65 -2.65ZM315.1 236.8l2.65 2.65l-2.65 2.65l-2.65 -2.65ZM315.1 240.2l2.65 2.65l-2.65 2.65l-2.65 -2.65ZM315.1 243.5l2.65 2.65l-2.65 2.65l-2.65 -2.65ZM315.1 246.9l2.65 2.65l-2.65 2.65l-2.65 -2.65ZM315.1 250.2l2.65 2.65l-2.65 2.65l-2.65 -2.65ZM315.1 253.6l2.65 2.65l-2.65 2.65l-2.65 -2.65ZM315.1 256.9l2.65 2.65l-2.65 2.65l-2.65 -2.65ZM315.1 260.3l2.65 2.65l-2.65 2.65l-2.65 -2.65ZM315.1 263.6l2.65 2.65l-2.65 2.65l-2.65 -2.65ZM315.1 267.0l2.65 2.65l-2.65 2.65l-2.65 -2.65ZM315.1 270.4l2.65 2.65l-2.65 2.65l-2.65 -2.65ZM315.1 280.9l2.65 2.65l-2.65 2.65l-2.65 -2.65ZM315.1 283.7l2.65 2.65l-2.65 2.65l-2.65 -2.65ZM315.1 286.6l2.65 2.65l-2.65 2.65l-2.65 -2.65ZM315.1 289.4l2.65 2.65l-2.65 2.65l-2.65 -2.65ZM315.1 292.2l2.65 2.65l-2.65 2.65l-2.65 -2.65ZM315.1 295.1l2.65 2.65l-2.65 2.65l-2.65 -2.65ZM315.1 298.0l2.65 2.65l-2.65 2.65l-2.65 -2.65ZM315.1 300.8l2.65 2.65l-2.65 2.65l-2.65 -2.65ZM315.1 303.7l2.65 2.65l-2.65 2.65l-2.65 -2.65ZM315.1 306.5l2.65 2.65l-2.65 2.65l-2.65 -2.65ZM315.1 309.4l2.65 2.65l-2.65 2.65l-2.65 -2.65ZM315.1 313.0l2.65 2.65l-2.65 2.65l-2.65 -2.65ZM315.1 318.4l2.65 2.65l-2.65 2.65l-2.65 -2.65ZM315.1 342.9l2.65 2.65l-2.65 2.65l-2.65 -2.65Z"/></defs>
<use href="#m8" fill="none" stroke="#e4efb4" stroke-width="1.2" clip-path="url(#cp8)" opacity="0.25"/>
<use href="#m8" fill="#454c00" stroke="#252900" stroke-width="0.5"/>
<g fill="none" stroke="#1f261b" stroke-width="1.3" stroke-linejoin="round"><use href="#b8"/><path d="M315.06 111.20V157.00M315.06 313.80V354.20"/></g>

<defs><path id="b9" d="M345.8 217.0 L345.9 218.0 L346.1 219.0 L346.4 220.0 L346.7 221.0 L347.0 222.0 L347.4 223.0 L347.6 224.0 L347.9 225.0 L348.1 226.0 L348.3 227.0 L348.5 228.0 L348.6 229.0 L348.7 230.0 L348.6 231.0 L348.6 232.0 L348.5 233.0 L348.4 234.0 L348.3 235.0 L348.1 236.0 L348.0 237.0 L347.8 238.0 L347.5 239.0 L347.3 240.0 L347.0 241.0 L346.5 242.0 L346.2 243.0 L345.9 244.0 L345.7 245.0 L345.7 245.6 L345.3 245.6 L345.2 245.0 L345.0 244.0 L344.8 243.0 L344.4 242.0 L344.0 241.0 L343.6 240.0 L343.4 239.0 L343.1 238.0 L343.0 237.0 L342.8 236.0 L342.7 235.0 L342.5 234.0 L342.4 233.0 L342.3 232.0 L342.3 231.0 L342.3 230.0 L342.3 229.0 L342.4 228.0 L342.6 227.0 L342.8 226.0 L343.1 225.0 L343.3 224.0 L343.6 223.0 L343.9 222.0 L344.2 221.0 L344.6 220.0 L344.8 219.0 L345.0 218.0 L345.2 217.0 Z"/><clipPath id="cp9"><use href="#b9"/></clipPath></defs>
<use href="#b9" fill="#9fd36b"/>
<defs><path id="m9" d="M345.5 196.3l2.65 2.65l-2.65 2.65l-2.65 -2.65ZM345.5 212.5l2.65 2.65l-2.65 2.65l-2.65 -2.65ZM345.5 216.3l2.65 2.65l-2.65 2.65l-2.65 -2.65ZM345.5 219.3l2.65 2.65l-2.65 2.65l-2.65 -2.65ZM345.5 222.3l2.65 2.65l-2.65 2.65l-2.65 -2.65ZM345.5 225.3l2.65 2.65l-2.65 2.65l-2.65 -2.65ZM345.5 228.3l2.65 2.65l-2.65 2.65l-2.65 -2.65ZM345.5 231.3l2.65 2.65l-2.65 2.65l-2.65 -2.65ZM345.5 234.3l2.65 2.65l-2.65 2.65l-2.65 -2.65ZM345.5 237.3l2.65 2.65l-2.65 2.65l-2.65 -2.65ZM345.5 240.8l2.65 2.65l-2.65 2.65l-2.65 -2.65Z"/></defs>
<use href="#m9" fill="none" stroke="#e4efb4" stroke-width="1.2" clip-path="url(#cp9)" opacity="0.25"/>
<use href="#m9" fill="#a03c10" stroke="#582108" stroke-width="0.5"/>
<g fill="none" stroke="#1f261b" stroke-width="1.3" stroke-linejoin="round"><use href="#b9"/><path d="M345.46 184.20V217.00M345.46 245.60V258.40"/></g>

<defs><path id="b10" d="M376.2 211.8 L376.4 212.8 L376.7 213.8 L377.0 214.8 L377.2 215.8 L377.4 216.8 L377.6 217.8 L377.8 218.8 L378.0 219.8 L378.2 220.8 L378.3 221.8 L378.5 222.8 L378.6 223.8 L378.8 224.8 L379.0 225.8 L379.2 226.8 L379.3 227.8 L379.4 228.8 L379.5 229.8 L379.5 230.8 L379.4 231.8 L379.4 232.8 L379.3 233.8 L379.3 234.8 L379.2 235.8 L379.1 236.8 L379.0 237.8 L378.8 238.8 L378.6 239.8 L378.4 240.8 L378.1 241.8 L377.9 242.8 L377.7 243.8 L377.5 244.8 L377.3 245.8 L377.2 246.8 L377.0 247.8 L376.8 248.8 L376.6 249.8 L376.4 250.8 L376.2 251.8 L376.1 252.5 L375.7 252.5 L375.5 251.8 L375.3 250.8 L375.1 249.8 L375.0 248.8 L374.8 247.8 L374.6 246.8 L374.4 245.8 L374.2 244.8 L374.0 243.8 L373.8 242.8 L373.6 241.8 L373.4 240.8 L373.1 239.8 L372.9 238.8 L372.7 237.8 L372.6 236.8 L372.5 235.8 L372.5 234.8 L372.4 233.8 L372.3 232.8 L372.3 231.8 L372.3 230.8 L372.3 229.8 L372.3 228.8 L372.4 227.8 L372.6 226.8 L372.8 225.8 L372.9 224.8 L373.1 223.8 L373.3 222.8 L373.4 221.8 L373.6 220.8 L373.7 219.8 L373.9 218.8 L374.1 217.8 L374.3 216.8 L374.5 215.8 L374.8 214.8 L375.0 213.8 L375.3 212.8 L375.6 211.8 Z"/><clipPath id="cp10"><use href="#b10"/></clipPath></defs>
<use href="#b10" fill="#9fd36b"/>
<defs><path id="m10" d="M375.9 191.0l2.65 2.65l-2.65 2.65l-2.65 -2.65ZM375.9 207.9l2.65 2.65l-2.65 2.65l-2.65 -2.65ZM375.9 211.3l2.65 2.65l-2.65 2.65l-2.65 -2.65ZM375.9 214.3l2.65 2.65l-2.65 2.65l-2.65 -2.65ZM375.9 217.3l2.65 2.65l-2.65 2.65l-2.65 -2.65ZM375.9 220.3l2.65 2.65l-2.65 2.65l-2.65 -2.65ZM375.9 223.3l2.65 2.65l-2.65 2.65l-2.65 -2.65ZM375.9 226.3l2.65 2.65l-2.65 2.65l-2.65 -2.65ZM375.9 229.3l2.65 2.65l-2.65 2.65l-2.65 -2.65ZM375.9 232.3l2.65 2.65l-2.65 2.65l-2.65 -2.65ZM375.9 235.3l2.65 2.65l-2.65 2.65l-2.65 -2.65ZM375.9 238.3l2.65 2.65l-2.65 2.65l-2.65 -2.65ZM375.9 241.3l2.65 2.65l-2.65 2.65l-2.65 -2.65ZM375.9 244.3l2.65 2.65l-2.65 2.65l-2.65 -2.65ZM375.9 247.3l2.65 2.65l-2.65 2.65l-2.65 -2.65Z"/></defs>
<use href="#m10" fill="none" stroke="#e4efb4" stroke-width="1.2" clip-path="url(#cp10)" opacity="0.25"/>
<use href="#m10" fill="#1f4e8c" stroke="#112a4d" stroke-width="0.5"/>
<g fill="none" stroke="#1f261b" stroke-width="1.3" stroke-linejoin="round"><use href="#b10"/><path d="M375.87 176.00V211.80M375.87 252.50V263.60"/></g>

<defs><path id="b11" d="M406.5 68.0 L406.5 69.0 L406.6 70.0 L406.6 71.0 L406.7 72.0 L406.9 73.0 L407.1 74.0 L407.4 75.0 L407.6 76.0 L407.6 77.0 L407.6 78.0 L407.6 79.0 L407.5 80.0 L407.5 81.0 L407.5 82.0 L407.5 83.0 L407.5 84.0 L407.5 85.0 L407.5 86.0 L407.5 87.0 L407.5 88.0 L407.5 89.0 L407.5 90.0 L407.6 91.0 L407.6 92.0 L407.6 93.0 L407.7 94.0 L407.7 95.0 L407.8 96.0 L407.9 97.0 L407.9 98.0 L408.0 99.0 L408.1 100.0 L408.3 101.0 L408.4 102.0 L408.6 103.0 L408.7 104.0 L408.9 105.0 L409.0 106.0 L409.2 107.0 L409.3 108.0 L409.5 109.0 L409.6 110.0 L409.7 111.0 L409.8 112.0 L410.0 113.0 L410.0 114.0 L410.1 115.0 L410.2 116.0 L410.3 117.0 L410.5 118.0 L410.6 119.0 L410.8 120.0 L411.0 121.0 L411.2 122.0 L411.4 123.0 L411.7 124.0 L411.9 125.0 L412.2 126.0 L412.5 127.0 L412.8 128.0 L413.1 129.0 L413.4 130.0 L413.7 131.0 L414.0 132.0 L414.3 133.0 L414.6 134.0 L414.8 135.0 L415.1 136.0 L415.4 137.0 L415.6 138.0 L415.8 139.0 L416.1 140.0 L416.3 141.0 L416.5 142.0 L416.6 143.0 L416.8 144.0 L416.9 145.0 L417.0 146.0 L417.1 147.0 L417.1 148.0 L417.1 149.0 L417.1 150.0 L417.1 151.0 L417.0 152.0 L416.8 153.0 L416.6 154.0 L416.4 155.0 L416.1 156.0 L415.9 157.0 L415.6 158.0 L415.3 159.0 L415.0 160.0 L414.6 161.0 L414.2 162.0 L413.8 163.0 L413.5 164.0 L413.1 165.0 L412.7 166.0 L412.3 167.0 L411.8 168.0 L411.5 169.0 L411.1 170.0 L410.7 171.0 L410.3 172.0 L410.0 173.0 L409.6 174.0 L409.3 175.0 L409.0 176.0 L408.7 177.0 L408.4 178.0 L408.1 179.0 L407.9 180.0 L407.6 181.0 L407.4 182.0 L407.2 183.0 L407.0 184.0 L406.8 185.0 L406.7 186.0 L406.5 187.0 L406.5 187.3 L406.1 187.3 L406.0 187.0 L405.9 186.0 L405.7 185.0 L405.6 184.0 L405.4 183.0 L405.2 182.0 L404.9 181.0 L404.7 180.0 L404.4 179.0 L404.1 178.0 L403.9 177.0 L403.6 176.0 L403.2 175.0 L402.9 174.0 L402.6 173.0 L402.2 172.0 L401.8 171.0 L401.5 170.0 L401.1 169.0 L400.7 168.0 L400.3 167.0 L399.9 166.0 L399.5 165.0 L399.1 164.0 L398.7 163.0 L398.4 162.0 L398.0 161.0 L397.6 160.0 L397.3 159.0 L396.9 158.0 L396.7 157.0 L396.4 156.0 L396.2 155.0 L395.9 154.0 L395.7 153.0 L395.6 152.0 L395.5 151.0 L395.5 150.0 L395.5 149.0 L395.5 148.0 L395.5 147.0 L395.6 146.0 L395.7 145.0 L395.8 144.0 L395.9 143.0 L396.1 142.0 L396.3 141.0 L396.5 140.0 L396.7 139.0 L396.9 138.0 L397.2 137.0 L397.4 136.0 L397.7 135.0 L398.0 134.0 L398.3 133.0 L398.6 132.0 L398.9 131.0 L399.2 130.0 L399.5 129.0 L399.8 128.0 L400.1 127.0 L400.4 126.0 L400.6 125.0 L400.9 124.0 L401.1 123.0 L401.3 122.0 L401.5 121.0 L401.7 120.0 L401.9 119.0 L402.1 118.0 L402.2 117.0 L402.3 116.0 L402.4 115.0 L402.5 114.0 L402.6 113.0 L402.7 112.0 L402.8 111.0 L403.0 110.0 L403.1 109.0 L403.2 108.0 L403.4 107.0 L403.5 106.0 L403.7 105.0 L403.8 104.0 L404.0 103.0 L404.1 102.0 L404.3 101.0 L404.4 100.0 L404.5 99.0 L404.6 98.0 L404.7 97.0 L404.8 96.0 L404.8 95.0 L404.9 94.0 L404.9 93.0 L405.0 92.0 L405.0 91.0 L405.0 90.0 L405.0 89.0 L405.1 88.0 L405.1 87.0 L405.1 86.0 L405.1 85.0 L405.1 84.0 L405.1 83.0 L405.0 82.0 L405.0 81.0 L405.0 80.0 L405.0 79.0 L405.0 78.0 L405.0 77.0 L405.0 76.0 L405.2 75.0 L405.4 74.0 L405.7 73.0 L405.8 72.0 L405.9 71.0 L406.0 70.0 L406.1 69.0 L406.1 68.0 Z"/><clipPath id="cp11"><use href="#b11"/></clipPath></defs>
<use href="#b11" fill="#9fd36b"/>
<defs><path id="m11" d="M406.3 74.3l2.65 2.65l-2.65 2.65l-2.65 -2.65ZM406.3 77.3l2.65 2.65l-2.65 2.65l-2.65 -2.65ZM406.3 80.3l2.65 2.65l-2.65 2.65l-2.65 -2.65ZM406.3 82.8l2.65 2.65l-2.65 2.65l-2.65 -2.65ZM406.3 91.9l2.65 2.65l-2.65 2.65l-2.65 -2.65ZM406.3 95.3l2.65 2.65l-2.65 2.65l-2.65 -2.65ZM406.3 106.3l2.65 2.65l-2.65 2.65l-2.65 -2.65ZM406.3 109.5l2.65 2.65l-2.65 2.65l-2.65 -2.65ZM406.3 116.3l2.65 2.65l-2.65 2.65l-2.65 -2.65ZM406.3 119.6l2.65 2.65l-2.65 2.65l-2.65 -2.65ZM406.3 122.8l2.65 2.65l-2.65 2.65l-2.65 -2.65ZM406.3 126.0l2.65 2.65l-2.65 2.65l-2.65 -2.65ZM406.3 129.2l2.65 2.65l-2.65 2.65l-2.65 -2.65ZM406.3 132.4l2.65 2.65l-2.65 2.65l-2.65 -2.65ZM406.3 135.6l2.65 2.65l-2.65 2.65l-2.65 -2.65ZM406.3 138.8l2.65 2.65l-2.65 2.65l-2.65 -2.65ZM406.3 142.0l2.65 2.65l-2.65 2.65l-2.65 -2.65ZM406.3 145.2l2.65 2.65l-2.65 2.65l-2.65 -2.65ZM406.3 148.4l2.65 2.65l-2.65 2.65l-2.65 -2.65ZM406.3 151.6l2.65 2.65l-2.65 2.65l-2.65 -2.65ZM406.3 154.8l2.65 2.65l-2.65 2.65l-2.65 -2.65ZM406.3 158.0l2.65 2.65l-2.65 2.65l-2.65 -2.65ZM406.3 161.2l2.65 2.65l-2.65 2.65l-2.65 -2.65ZM406.3 164.4l2.65 2.65l-2.65 2.65l-2.65 -2.65ZM406.3 167.6l2.65 2.65l-2.65 2.65l-2.65 -2.65ZM406.3 170.8l2.65 2.65l-2.65 2.65l-2.65 -2.65ZM406.3 210.8l2.65 2.65l-2.65 2.65l-2.65 -2.65Z"/></defs>
<use href="#m11" fill="none" stroke="#e4efb4" stroke-width="1.2" clip-path="url(#cp11)" opacity="0.25"/>
<use href="#m11" fill="#2e6b0f" stroke="#193a08" stroke-width="0.5"/>
<g fill="none" stroke="#1f261b" stroke-width="1.3" stroke-linejoin="round"><use href="#b11"/><path d="M406.28 52.50V68.00M406.28 187.30V236.60"/></g>

<defs><path id="b12" d="M436.9 51.0 L437.1 52.0 L437.3 53.0 L437.5 54.0 L437.5 55.0 L437.5 56.0 L437.5 57.0 L437.5 58.0 L437.5 59.0 L437.5 60.0 L437.5 61.0 L437.5 62.0 L437.5 63.0 L437.5 64.0 L437.5 65.0 L437.5 66.0 L437.5 67.0 L437.5 68.0 L437.5 69.0 L437.5 70.0 L437.5 71.0 L437.5 72.0 L437.5 73.0 L437.5 74.0 L437.5 75.0 L437.5 76.0 L437.5 77.0 L437.5 78.0 L437.5 79.0 L437.5 80.0 L437.5 81.0 L437.5 82.0 L437.6 83.0 L437.6 84.0 L437.6 85.0 L437.6 86.0 L437.7 87.0 L437.7 88.0 L437.7 89.0 L437.8 90.0 L437.8 91.0 L437.9 92.0 L437.9 93.0 L438.0 94.0 L438.0 95.0 L438.1 96.0 L438.2 97.0 L438.2 98.0 L438.4 99.0 L438.5 100.0 L438.7 101.0 L438.9 102.0 L439.2 103.0 L439.4 104.0 L439.6 105.0 L439.8 106.0 L439.9 107.0 L440.1 108.0 L440.2 109.0 L440.4 110.0 L440.5 111.0 L440.7 112.0 L440.8 113.0 L440.9 114.0 L441.0 115.0 L441.1 116.0 L441.2 117.0 L441.3 118.0 L441.4 119.0 L441.5 120.0 L441.7 121.0 L441.8 122.0 L442.0 123.0 L442.1 124.0 L442.3 125.0 L442.5 126.0 L442.7 127.0 L442.9 128.0 L443.1 129.0 L443.3 130.0 L443.5 131.0 L443.7 132.0 L443.9 133.0 L444.1 134.0 L444.3 135.0 L444.5 136.0 L444.7 137.0 L444.9 138.0 L445.1 139.0 L445.3 140.0 L445.5 141.0 L445.7 142.0 L445.9 143.0 L446.1 144.0 L446.3 145.0 L446.5 146.0 L446.7 147.0 L446.9 148.0 L447.0 149.0 L447.1 150.0 L447.2 151.0 L447.3 152.0 L447.4 153.0 L447.4 154.0 L447.4 155.0 L447.5 156.0 L447.5 157.0 L447.5 158.0 L447.4 159.0 L447.3 160.0 L447.2 161.0 L447.1 162.0 L446.9 163.0 L446.8 164.0 L446.6 165.0 L446.4 166.0 L446.1 167.0 L445.8 168.0 L445.5 169.0 L445.2 170.0 L444.8 171.0 L444.5 172.0 L444.0 173.0 L443.6 174.0 L443.2 175.0 L442.7 176.0 L442.3 177.0 L441.9 178.0 L441.5 179.0 L441.1 180.0 L440.7 181.0 L440.3 182.0 L440.0 183.0 L439.7 184.0 L439.4 185.0 L439.1 186.0 L438.8 187.0 L438.5 188.0 L438.3 189.0 L438.2 190.0 L438.1 191.0 L438.0 192.0 L437.9 193.0 L437.8 194.0 L437.7 195.0 L437.6 196.0 L437.5 197.0 L437.4 198.0 L437.3 199.0 L437.2 200.0 L437.2 201.0 L437.1 202.0 L437.0 203.0 L437.0 204.0 L436.9 205.0 L436.9 206.0 L436.9 207.0 L436.8 208.0 L436.8 209.0 L436.6 209.0 L436.6 208.0 L436.5 207.0 L436.5 206.0 L436.4 205.0 L436.4 204.0 L436.3 203.0 L436.3 202.0 L436.2 201.0 L436.1 200.0 L436.0 199.0 L436.0 198.0 L435.9 197.0 L435.8 196.0 L435.7 195.0 L435.6 194.0 L435.5 193.0 L435.4 192.0 L435.3 191.0 L435.2 190.0 L435.0 189.0 L434.8 188.0 L434.6 187.0 L434.3 186.0 L434.0 185.0 L433.7 184.0 L433.4 183.0 L433.0 182.0 L432.7 181.0 L432.3 180.0 L431.9 179.0 L431.4 178.0 L431.0 177.0 L430.6 176.0 L430.2 175.0 L429.8 174.0 L429.3 173.0 L428.9 172.0 L428.5 171.0 L428.2 170.0 L427.9 169.0 L427.6 168.0 L427.3 167.0 L427.0 166.0 L426.8 165.0 L426.6 164.0 L426.4 163.0 L426.3 162.0 L426.2 161.0 L426.1 160.0 L426.0 159.0 L425.9 158.0 L425.9 157.0 L425.9 156.0 L425.9 155.0 L426.0 154.0 L426.0 153.0 L426.1 152.0 L426.1 151.0 L426.2 150.0 L426.3 149.0 L426.5 148.0 L426.7 147.0 L426.9 146.0 L427.1 145.0 L427.3 144.0 L427.5 143.0 L427.7 142.0 L427.9 141.0 L428.1 140.0 L428.3 139.0 L428.5 138.0 L428.7 137.0 L428.9 136.0 L429.1 135.0 L429.3 134.0 L429.5 133.0 L429.7 132.0 L429.9 131.0 L430.1 130.0 L430.3 129.0 L430.5 128.0 L430.7 127.0 L430.9 126.0 L431.1 125.0 L431.2 124.0 L431.4 123.0 L431.6 122.0 L431.7 121.0 L431.8 120.0 L432.0 119.0 L432.1 118.0 L432.2 117.0 L432.3 116.0 L432.4 115.0 L432.5 114.0 L432.6 113.0 L432.7 112.0 L432.8 111.0 L433.0 110.0 L433.1 109.0 L433.3 108.0 L433.4 107.0 L433.6 106.0 L433.8 105.0 L434.0 104.0 L434.2 103.0 L434.4 102.0 L434.7 101.0 L434.9 100.0 L435.0 99.0 L435.1 98.0 L435.2 97.0 L435.3 96.0 L435.3 95.0 L435.4 94.0 L435.4 93.0 L435.5 92.0 L435.5 91.0 L435.6 90.0 L435.6 89.0 L435.7 88.0 L435.7 87.0 L435.7 86.0 L435.8 85.0 L435.8 84.0 L435.8 83.0 L435.8 82.0 L435.8 81.0 L435.8 80.0 L435.8 79.0 L435.8 78.0 L435.8 77.0 L435.8 76.0 L435.8 75.0 L435.8 74.0 L435.8 73.0 L435.8 72.0 L435.8 71.0 L435.8 70.0 L435.8 69.0 L435.8 68.0 L435.8 67.0 L435.8 66.0 L435.8 65.0 L435.8 64.0 L435.8 63.0 L435.8 62.0 L435.8 61.0 L435.8 60.0 L435.8 59.0 L435.8 58.0 L435.8 57.0 L435.8 56.0 L435.8 55.0 L435.9 54.0 L436.1 53.0 L436.3 52.0 L436.5 51.0 Z"/><clipPath id="cp12"><use href="#b12"/></clipPath></defs>
<use href="#b12" fill="#9fd36b"/>
<defs><path id="m12" d="M436.7 52.4l2.65 2.65l-2.65 2.65l-2.65 -2.65ZM436.7 68.6l2.65 2.65l-2.65 2.65l-2.65 -2.65ZM436.7 75.6l2.65 2.65l-2.65 2.65l-2.65 -2.65ZM436.7 100.5l2.65 2.65l-2.65 2.65l-2.65 -2.65ZM436.7 104.0l2.65 2.65l-2.65 2.65l-2.65 -2.65ZM436.7 107.5l2.65 2.65l-2.65 2.65l-2.65 -2.65ZM436.7 111.0l2.65 2.65l-2.65 2.65l-2.65 -2.65ZM436.7 114.5l2.65 2.65l-2.65 2.65l-2.65 -2.65ZM436.7 118.0l2.65 2.65l-2.65 2.65l-2.65 -2.65ZM436.7 121.4l2.65 2.65l-2.65 2.65l-2.65 -2.65ZM436.7 124.9l2.65 2.65l-2.65 2.65l-2.65 -2.65ZM436.7 128.4l2.65 2.65l-2.65 2.65l-2.65 -2.65ZM436.7 131.9l2.65 2.65l-2.65 2.65l-2.65 -2.65ZM436.7 135.4l2.65 2.65l-2.65 2.65l-2.65 -2.65ZM436.7 138.9l2.65 2.65l-2.65 2.65l-2.65 -2.65ZM436.7 142.3l2.65 2.65l-2.65 2.65l-2.65 -2.65ZM436.7 148.8l2.65 2.65l-2.65 2.65l-2.65 -2.65ZM436.7 151.2l2.65 2.65l-2.65 2.65l-2.65 -2.65ZM436.7 153.5l2.65 2.65l-2.65 2.65l-2.65 -2.65ZM436.7 155.8l2.65 2.65l-2.65 2.65l-2.65 -2.65ZM436.7 158.2l2.65 2.65l-2.65 2.65l-2.65 -2.65ZM436.7 160.5l2.65 2.65l-2.65 2.65l-2.65 -2.65ZM436.7 162.8l2.65 2.65l-2.65 2.65l-2.65 -2.65ZM436.7 165.2l2.65 2.65l-2.65 2.65l-2.65 -2.65ZM436.7 167.5l2.65 2.65l-2.65 2.65l-2.65 -2.65ZM436.7 169.8l2.65 2.65l-2.65 2.65l-2.65 -2.65ZM436.7 172.2l2.65 2.65l-2.65 2.65l-2.65 -2.65ZM436.7 174.5l2.65 2.65l-2.65 2.65l-2.65 -2.65ZM436.7 176.8l2.65 2.65l-2.65 2.65l-2.65 -2.65ZM436.7 185.8l2.65 2.65l-2.65 2.65l-2.65 -2.65ZM436.7 188.8l2.65 2.65l-2.65 2.65l-2.65 -2.65Z"/></defs>
<use href="#m12" fill="none" stroke="#e4efb4" stroke-width="1.2" clip-path="url(#cp12)" opacity="0.25"/>
<use href="#m12" fill="#222222" stroke="#121212" stroke-width="0.5"/>
<g fill="none" stroke="#1f261b" stroke-width="1.3" stroke-linejoin="round"><use href="#b12"/><path d="M436.68 50.20V51.00M436.68 209.00V223.00"/></g>

<defs><path id="b13" d="M467.4 194.0 L467.7 195.0 L468.0 196.0 L468.1 197.0 L468.3 198.0 L468.4 199.0 L468.4 200.0 L468.5 201.0 L468.6 202.0 L468.8 203.0 L468.9 204.0 L469.0 205.0 L469.2 206.0 L469.3 207.0 L469.5 208.0 L469.7 209.0 L469.9 210.0 L470.1 211.0 L470.4 212.0 L470.7 213.0 L471.0 214.0 L471.3 215.0 L471.6 216.0 L471.9 217.0 L472.3 218.0 L472.7 219.0 L473.1 220.0 L473.5 221.0 L473.9 222.0 L474.3 223.0 L474.7 224.0 L475.2 225.0 L475.6 226.0 L476.0 227.0 L476.4 228.0 L476.8 229.0 L477.2 230.0 L477.6 231.0 L477.9 232.0 L478.2 233.0 L478.5 234.0 L478.7 235.0 L478.9 236.0 L479.0 237.0 L479.1 238.0 L479.2 239.0 L479.2 240.0 L479.1 241.0 L479.0 242.0 L478.9 243.0 L478.8 244.0 L478.6 245.0 L478.3 246.0 L477.9 247.0 L477.5 248.0 L477.0 249.0 L476.5 250.0 L475.8 251.0 L475.2 252.0 L474.5 253.0 L473.9 254.0 L473.3 255.0 L472.7 256.0 L472.1 257.0 L471.5 258.0 L470.9 259.0 L470.4 260.0 L470.0 261.0 L469.6 262.0 L469.3 263.0 L469.0 264.0 L468.7 265.0 L468.6 266.0 L468.5 267.0 L468.3 268.0 L468.2 269.0 L468.2 270.0 L468.2 271.0 L468.2 272.0 L468.2 273.0 L468.2 274.0 L468.2 275.0 L468.2 276.0 L468.2 277.0 L468.2 278.0 L468.2 279.0 L468.2 280.0 L468.2 281.0 L468.2 282.0 L467.9 283.0 L467.5 284.0 L467.4 284.4 L466.8 284.4 L466.6 284.0 L466.2 283.0 L466.0 282.0 L466.0 281.0 L466.0 280.0 L466.0 279.0 L466.0 278.0 L466.0 277.0 L466.0 276.0 L466.0 275.0 L466.0 274.0 L466.0 273.0 L466.0 272.0 L466.0 271.0 L466.0 270.0 L465.9 269.0 L465.8 268.0 L465.7 267.0 L465.6 266.0 L465.4 265.0 L465.2 264.0 L464.9 263.0 L464.6 262.0 L464.2 261.0 L463.8 260.0 L463.2 259.0 L462.7 258.0 L462.1 257.0 L461.5 256.0 L460.8 255.0 L460.3 254.0 L459.6 253.0 L459.0 252.0 L458.3 251.0 L457.7 250.0 L457.2 249.0 L456.7 248.0 L456.3 247.0 L455.9 246.0 L455.6 245.0 L455.4 244.0 L455.3 243.0 L455.1 242.0 L455.1 241.0 L455.0 240.0 L455.0 239.0 L455.1 238.0 L455.2 237.0 L455.3 236.0 L455.5 235.0 L455.7 234.0 L456.0 233.0 L456.3 232.0 L456.6 231.0 L457.0 230.0 L457.4 229.0 L457.7 228.0 L458.1 227.0 L458.6 226.0 L459.0 225.0 L459.4 224.0 L459.9 223.0 L460.3 222.0 L460.7 221.0 L461.1 220.0 L461.5 219.0 L461.9 218.0 L462.3 217.0 L462.6 216.0 L462.9 215.0 L463.2 214.0 L463.5 213.0 L463.8 212.0 L464.0 211.0 L464.3 210.0 L464.5 209.0 L464.7 208.0 L464.8 207.0 L465.0 206.0 L465.1 205.0 L465.3 204.0 L465.4 203.0 L465.5 202.0 L465.6 201.0 L465.7 200.0 L465.8 199.0 L465.9 198.0 L466.0 197.0 L466.2 196.0 L466.4 195.0 L466.8 194.0 Z"/><clipPath id="cp13"><use href="#b13"/></clipPath></defs>
<use href="#b13" fill="#9fd36b"/>
<defs><path id="m13" d="M467.1 193.7l2.65 2.65l-2.65 2.65l-2.65 -2.65ZM467.1 196.7l2.65 2.65l-2.65 2.65l-2.65 -2.65ZM467.1 200.3l2.65 2.65l-2.65 2.65l-2.65 -2.65ZM467.1 203.5l2.65 2.65l-2.65 2.65l-2.65 -2.65ZM467.1 206.8l2.65 2.65l-2.65 2.65l-2.65 -2.65ZM467.1 209.9l2.65 2.65l-2.65 2.65l-2.65 -2.65ZM467.1 212.8l2.65 2.65l-2.65 2.65l-2.65 -2.65ZM467.1 216.0l2.65 2.65l-2.65 2.65l-2.65 -2.65ZM467.1 219.1l2.65 2.65l-2.65 2.65l-2.65 -2.65ZM467.1 222.2l2.65 2.65l-2.65 2.65l-2.65 -2.65ZM467.1 225.3l2.65 2.65l-2.65 2.65l-2.65 -2.65ZM467.1 228.4l2.65 2.65l-2.65 2.65l-2.65 -2.65ZM467.1 231.5l2.65 2.65l-2.65 2.65l-2.65 -2.65ZM467.1 234.6l2.65 2.65l-2.65 2.65l-2.65 -2.65ZM467.1 237.7l2.65 2.65l-2.65 2.65l-2.65 -2.65ZM467.1 240.8l2.65 2.65l-2.65 2.65l-2.65 -2.65ZM467.1 243.9l2.65 2.65l-2.65 2.65l-2.65 -2.65ZM467.1 247.0l2.65 2.65l-2.65 2.65l-2.65 -2.65ZM467.1 250.1l2.65 2.65l-2.65 2.65l-2.65 -2.65ZM467.1 253.2l2.65 2.65l-2.65 2.65l-2.65 -2.65ZM467.1 256.4l2.65 2.65l-2.65 2.65l-2.65 -2.65ZM467.1 269.4l2.65 2.65l-2.65 2.65l-2.65 -2.65ZM467.1 272.4l2.65 2.65l-2.65 2.65l-2.65 -2.65ZM467.1 275.4l2.65 2.65l-2.65 2.65l-2.65 -2.65ZM467.1 278.4l2.65 2.65l-2.65 2.65l-2.65 -2.65ZM467.1 281.4l2.65 2.65l-2.65 2.65l-2.65 -2.65Z"/></defs>
<use href="#m13" fill="none" stroke="#e4efb4" stroke-width="1.2" clip-path="url(#cp13)" opacity="0.25"/>
<use href="#m13" fill="#b01515" stroke="#600b0b" stroke-width="0.5"/>
<g fill="none" stroke="#1f261b" stroke-width="1.3" stroke-linejoin="round"><use href="#b13"/><path d="M467.09 181.20V194.00M467.09 284.40V296.10"/></g>

<defs><path id="b14" d="M497.7 209.5 L497.8 210.5 L498.0 211.5 L498.2 212.5 L498.5 213.5 L498.9 214.5 L499.3 215.5 L500.0 216.5 L500.8 217.5 L501.7 218.5 L502.8 219.5 L504.0 220.5 L505.4 221.5 L506.7 222.5 L508.0 223.5 L509.1 224.5 L509.2 225.5 L508.2 226.5 L507.3 227.5 L506.3 228.5 L505.1 229.5 L504.0 230.5 L502.9 231.5 L502.0 232.5 L501.2 233.5 L500.5 234.5 L499.9 235.5 L499.3 236.5 L498.7 237.5 L498.3 238.5 L497.9 239.5 L497.7 240.0 L497.3 240.0 L497.1 239.5 L496.7 238.5 L496.3 237.5 L495.7 236.5 L495.1 235.5 L494.5 234.5 L493.8 233.5 L493.0 232.5 L492.1 231.5 L491.0 230.5 L489.8 229.5 L488.7 228.5 L487.7 227.5 L486.8 226.5 L485.8 225.5 L485.9 224.5 L487.0 223.5 L488.3 222.5 L489.6 221.5 L491.0 220.5 L492.2 219.5 L493.3 218.5 L494.2 217.5 L495.0 216.5 L495.6 215.5 L496.1 214.5 L496.5 213.5 L496.8 212.5 L497.0 211.5 L497.2 210.5 L497.3 209.5 Z"/><clipPath id="cp14"><use href="#b14"/></clipPath></defs>
<use href="#b14" fill="#9fd36b"/>
<defs><path id="m14" d="M497.5 210.3l2.65 2.65l-2.65 2.65l-2.65 -2.65ZM497.5 213.3l2.65 2.65l-2.65 2.65l-2.65 -2.65ZM497.5 216.2l2.65 2.65l-2.65 2.65l-2.65 -2.65ZM497.5 219.2l2.65 2.65l-2.65 2.65l-2.65 -2.65ZM497.5 222.1l2.65 2.65l-2.65 2.65l-2.65 -2.65ZM497.5 225.0l2.65 2.65l-2.65 2.65l-2.65 -2.65ZM497.5 228.0l2.65 2.65l-2.65 2.65l-2.65 -2.65ZM497.5 230.9l2.65 2.65l-2.65 2.65l-2.65 -2.65ZM497.5 233.8l2.65 2.65l-2.65 2.65l-2.65 -2.65ZM497.5 239.9l2.65 2.65l-2.65 2.65l-2.65 -2.65ZM497.5 257.2l2.65 2.65l-2.65 2.65l-2.65 -2.65ZM497.5 258.8l2.65 2.65l-2.65 2.65l-2.65 -2.65Z"/></defs>
<use href="#m14" fill="none" stroke="#e4efb4" stroke-width="1.2" clip-path="url(#cp14)" opacity="0.25"/>
<use href="#m14" fill="#174a8c" stroke="#0c284d" stroke-width="0.5"/>
<g fill="none" stroke="#1f261b" stroke-width="1.3" stroke-linejoin="round"><use href="#b14"/><path d="M497.50 208.10V209.50M497.50 240.00V268.80"/></g>

<g stroke="#111" stroke-width="1.65" fill="none" stroke-linecap="butt">
<path d="M56.60 6.50 H512.70 V373.20 H56.60 Z"/>
<path d="M49.60 6.50 H56.60 M505.70 6.50 H512.70 M49.60 79.75 H56.60 M505.70 79.75 H512.70 M49.60 153.00 H56.60 M505.70 153.00 H512.70 M49.60 226.25 H56.60 M505.70 226.25 H512.70 M49.60 320.85 H56.60 M505.70 320.85 H512.70 M49.60 341.70 H56.60 M505.70 341.70 H512.70 M49.60 362.55 H56.60 M505.70 362.55 H512.70 M52.90 43.10 H56.60 M508.70 43.10 H512.70 M52.90 116.40 H56.60 M508.70 116.40 H512.70 M52.90 189.60 H56.60 M508.70 189.60 H512.70 M52.90 262.90 H56.60 M508.70 262.90 H512.70 M52.90 310.40 H56.60 M508.70 310.40 H512.70 M52.90 331.30 H56.60 M508.70 331.30 H512.70 M52.90 352.10 H56.60 M508.70 352.10 H512.70 M52.90 372.80 H56.60 M71.80 6.50 V13.00 M71.80 373.20 V380.20 M102.21 6.50 V13.00 M102.21 373.20 V380.20 M132.62 6.50 V13.00 M132.62 373.20 V380.20 M163.02 6.50 V13.00 M163.02 373.20 V380.20 M193.43 6.50 V13.00 M193.43 373.20 V380.20 M223.84 6.50 V13.00 M223.84 373.20 V380.20 M254.24 6.50 V13.00 M254.24 373.20 V380.20 M284.65 6.50 V13.00 M284.65 373.20 V380.20 M315.06 6.50 V13.00 M315.06 373.20 V380.20 M345.46 6.50 V13.00 M345.46 373.20 V380.20 M375.87 6.50 V13.00 M375.87 373.20 V380.20 M406.28 6.50 V13.00 M406.28 373.20 V380.20 M436.68 6.50 V13.00 M436.68 373.20 V380.20 M467.09 6.50 V13.00 M467.09 373.20 V380.20 M497.50 6.50 V13.00 M497.50 373.20 V380.20 M49.60 302.50 L63.40 296.30 M505.70 302.50 L519.70 296.00 "/>
</g>
<g font-family="Liberation Sans, Arial, sans-serif" fill="#111" stroke="#111" stroke-width="0.4">
<text x="44.6" y="10.90" font-size="15" text-anchor="end">15</text>
<text x="44.6" y="84.15" font-size="15" text-anchor="end">10</text>
<text x="44.6" y="157.40" font-size="15" text-anchor="end">5</text>
<text x="44.6" y="230.65" font-size="15" text-anchor="end">0</text>
<text x="44.6" y="304.90" font-size="15" text-anchor="end">-5</text>
<text x="44.6" y="325.75" font-size="15" text-anchor="end">-10</text>
<text x="44.6" y="346.60" font-size="15" text-anchor="end">-15</text>
<text x="44.6" y="367.45" font-size="15" text-anchor="end">-20</text>
<text transform="translate(13.7,189.3) rotate(-90)" font-size="19" text-anchor="middle">IP error (eV)</text>
<text transform="translate(82.80,398.50) rotate(-45)" font-size="15.4" text-anchor="end">NOTCH</text>
<text transform="translate(113.21,398.50) rotate(-45)" font-size="15.4" text-anchor="end">NOTCH a</text>
<text transform="translate(143.62,398.50) rotate(-45)" font-size="15.4" text-anchor="end">NOTCH b</text>
<text transform="translate(174.02,398.50) rotate(-45)" font-size="15.4" text-anchor="end">NOTCH c</text>
<text transform="translate(204.43,398.50) rotate(-45)" font-size="15.4" text-anchor="end">NOTCH d</text>
<text transform="translate(234.84,398.50) rotate(-45)" font-size="15.4" text-anchor="end">NOTCH e</text>
<text transform="translate(265.24,398.50) rotate(-45)" font-size="15.4" text-anchor="end">NOTCH f</text>
<text transform="translate(295.65,398.50) rotate(-45)" font-size="15.4" text-anchor="end">PM3</text>
<text transform="translate(326.06,398.50) rotate(-45)" font-size="15.4" text-anchor="end">PM7</text>
<text transform="translate(356.46,398.50) rotate(-45)" font-size="15.4" text-anchor="end">OM2</text>
<text transform="translate(386.87,398.50) rotate(-45)" font-size="15.4" text-anchor="end">OM3</text>
<text transform="translate(417.28,398.50) rotate(-45)" font-size="15.4" text-anchor="end">GFN-xTB</text>
<text transform="translate(447.68,398.50) rotate(-45)" font-size="15.4" text-anchor="end">GFN2-xTB</text>
<text transform="translate(478.09,398.50) rotate(-45)" font-size="15.4" text-anchor="end">HF-3c</text>
<text transform="translate(508.50,398.50) rotate(-45)" font-size="15.4" text-anchor="end">B3LYP</text>
<text x="71.50" y="162.50" font-size="13.7" text-anchor="middle">NO</text>
<text x="102.70" y="138.60" font-size="13.7" text-anchor="middle">NO</text>
<text x="195.30" y="135.00" font-size="13.7" text-anchor="middle">Ne<tspan dy="5.6" font-size="15">2</tspan></text>
<text x="255.10" y="144.00" font-size="13.7" text-anchor="middle">HeNe</text>
<text x="254.20" y="275.50" font-size="13.7" text-anchor="middle">HeO</text>
<text x="296.10" y="159.70" font-size="13.7" text-anchor="middle">Be<tspan dy="5.6" font-size="15">2</tspan></text>
<text x="291.20" y="350.70" font-size="13.7" text-anchor="middle">HeNe</text>
<text x="343.30" y="178.70" font-size="13.7" text-anchor="middle">OF</text>
<text x="377.90" y="170.40" font-size="13.7" text-anchor="middle">OF</text>
<text x="401.80" y="83.50" font-size="13.7" text-anchor="end">HO</text>
<text x="395.60" y="253.30" font-size="13.7" text-anchor="start">Ne<tspan dy="5.6" font-size="15">2</tspan></text>
<text x="438.00" y="46.40" font-size="13.7" text-anchor="middle">HeC</text>
<text x="468.40" y="173.80" font-size="13.7" text-anchor="middle">O<tspan dy="5.6" font-size="15">2</tspan></text>
<text x="466.10" y="310.00" font-size="13.7" text-anchor="middle">BeC</text>
<text x="497.60" y="283.00" font-size="13.7" text-anchor="middle">Ne<tspan dy="5.6" font-size="15">2</tspan></text>
<text x="74.40" y="298.80" font-size="13.7" text-anchor="middle">F<tspan dy="5.6" font-size="15">2</tspan></text>
<text x="102.50" y="298.80" font-size="13.7" text-anchor="middle">F<tspan dy="5.6" font-size="15">2</tspan></text>
</g>
</svg>
</body></html>
